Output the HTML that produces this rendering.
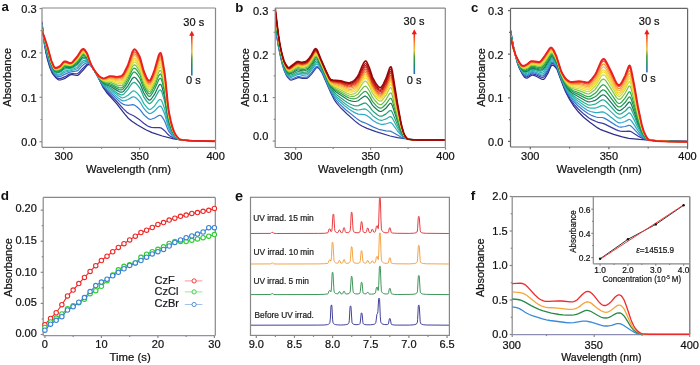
<!DOCTYPE html>
<html><head><meta charset="utf-8"><style>
html,body{margin:0;padding:0;background:#fff;width:700px;height:365px;overflow:hidden}
svg{display:block;will-change:transform}
text{font-family:"Liberation Sans", sans-serif;stroke:#111;stroke-width:0.22px}
</style></head><body>
<svg width="700" height="365" viewBox="0 0 700 365">
<rect width="700" height="365" fill="#fff"/>
<g clip-path="url(#clip42)">
<clipPath id="clip42"><rect x="42.00" y="5.00" width="173.50" height="142.30"/></clipPath>
<path d="M42.0 21.8L43.5 36.2L44.6 45.4L46.1 53.4L47.5 59.6L49.8 67.2L51.9 72.4L52.7 73.9L54.5 76.2L55.9 77.8L57.4 79.1L58.5 79.8L59.4 80.0L60.6 79.9L62.0 79.5L65.2 78.3L69.3 75.4L71.0 74.7L72.4 74.7L76.5 75.5L77.9 75.3L79.4 74.2L83.2 70.1L86.9 65.5L88.4 64.6L89.5 64.6L91.0 65.8L94.5 70.7L98.8 78.7L102.9 87.1L106.6 92.5L116.8 103.9L124.6 113.9L127.8 117.7L129.8 119.6L131.9 121.3L137.1 124.8L145.8 129.8L152.1 132.6L162.3 136.0L173.6 138.8L179.1 139.7L189.5 140.7L202.8 141.1L215.6 141.3" fill="none" stroke="#2d2d8a" stroke-width="1.25" stroke-linejoin="round"/>
<path d="M42.0 22.7L43.5 36.1L44.6 44.7L46.1 52.4L47.5 58.4L50.1 67.0L51.9 71.4L52.7 73.0L54.5 75.3L55.6 76.6L57.1 77.9L58.8 78.6L60.3 78.6L65.2 76.7L69.0 74.4L70.4 73.8L72.2 73.5L76.5 73.8L77.7 73.6L79.1 72.5L82.0 69.2L86.6 64.6L88.1 63.9L89.3 64.0L91.0 65.7L94.2 70.2L98.8 78.4L102.9 86.2L104.9 89.1L107.5 92.0L115.9 100.5L123.2 108.6L126.6 111.9L129.2 113.8L133.6 115.8L135.9 117.2L140.0 120.1L143.7 123.3L147.2 125.7L149.2 126.7L151.3 127.3L154.7 127.6L159.1 127.6L160.8 127.9L162.3 128.8L164.6 130.7L168.1 134.6L169.5 135.7L173.6 138.0L177.9 139.4L183.1 140.1L190.7 140.7L215.6 141.3" fill="none" stroke="#3b3ba6" stroke-width="1.25" stroke-linejoin="round"/>
<path d="M42.0 24.1L43.5 35.9L44.6 43.5L46.1 50.7L47.5 56.4L50.1 65.2L51.6 69.2L52.7 71.5L53.9 73.2L55.1 74.7L56.2 75.6L58.2 76.6L60.0 76.6L61.1 76.2L64.0 74.6L69.8 72.2L77.1 70.9L78.5 69.9L82.0 65.9L84.0 64.3L85.5 63.4L86.9 62.7L87.5 62.7L88.4 62.9L89.3 63.5L90.4 64.8L94.2 70.2L102.0 84.0L103.7 86.6L106.6 89.6L113.3 95.5L120.5 102.4L122.9 104.1L125.2 104.9L128.1 105.3L132.7 104.7L133.9 104.9L134.7 105.3L136.8 106.7L140.0 109.6L143.4 114.2L145.8 116.6L147.8 118.3L149.2 119.1L150.4 119.3L151.8 119.0L154.7 118.0L158.8 115.5L160.0 115.3L160.8 115.5L162.3 117.1L164.6 121.0L167.8 129.2L168.9 131.5L171.8 135.2L173.3 136.6L174.7 137.6L177.1 138.8L179.1 139.5L185.8 140.4L197.3 141.0L215.6 141.3" fill="none" stroke="#3a7bd2" stroke-width="1.25" stroke-linejoin="round"/>
<path d="M42.0 25.1L44.6 42.7L46.1 49.4L47.5 55.0L50.1 64.0L51.3 67.3L53.3 71.4L54.5 73.0L55.6 74.1L57.7 75.1L59.7 75.1L60.9 74.7L64.3 72.5L69.3 71.0L73.6 70.0L76.8 69.0L78.2 67.9L81.4 64.1L82.9 62.8L85.2 61.7L86.6 61.5L87.5 61.6L88.4 62.1L89.3 63.0L91.3 65.8L94.8 71.1L101.7 82.9L103.5 85.4L106.3 88.2L111.9 92.4L119.1 98.6L121.1 100.1L122.9 100.8L124.9 100.7L128.1 99.5L132.1 97.1L133.3 96.8L134.5 97.0L136.5 98.3L139.7 101.6L140.8 103.2L143.7 108.2L146.3 111.3L148.1 112.9L149.5 113.6L150.4 113.5L151.3 113.2L154.5 111.1L157.9 107.4L159.1 106.5L160.0 106.1L160.8 106.3L161.4 107.0L162.3 108.5L164.6 113.9L167.8 125.4L168.9 128.6L171.0 132.3L172.7 134.9L174.4 136.7L176.5 138.1L178.2 139.1L180.0 139.7L187.2 140.5L200.0 141.0L215.6 141.3" fill="none" stroke="#32a8c8" stroke-width="1.25" stroke-linejoin="round"/>
<path d="M42.0 25.9L44.6 42.1L47.5 54.0L50.1 63.0L51.3 66.5L53.3 70.6L54.5 72.3L55.3 73.2L57.4 74.1L58.5 74.2L59.7 74.0L60.9 73.5L63.2 71.8L64.3 71.1L71.6 69.5L73.9 68.7L76.8 67.5L77.7 66.9L81.4 62.3L82.9 61.1L83.7 60.6L84.9 60.4L87.2 60.6L88.4 61.5L89.5 63.0L94.8 71.1L101.4 81.9L103.2 84.4L105.8 86.6L111.0 90.0L118.5 95.8L120.5 97.1L121.7 97.6L122.6 97.8L123.4 97.7L124.6 97.3L128.1 95.2L132.1 91.5L133.3 90.9L134.5 91.0L136.5 92.4L139.7 96.0L140.8 97.8L144.0 103.9L147.5 108.2L148.7 109.1L149.5 109.5L150.4 109.3L151.3 108.9L154.5 106.0L157.9 101.2L159.1 99.9L160.0 99.5L160.8 99.7L161.4 100.4L162.3 102.2L164.6 108.7L167.8 122.6L169.2 127.2L171.3 131.5L173.3 134.8L174.7 136.5L177.3 138.5L178.8 139.2L180.2 139.7L188.1 140.6L201.1 141.1L215.6 141.3" fill="none" stroke="#2eb5b0" stroke-width="1.25" stroke-linejoin="round"/>
<path d="M42.0 27.0L43.8 37.0L44.9 42.5L50.1 61.7L51.3 65.2L52.7 68.4L54.2 70.9L55.3 72.1L57.1 72.7L59.1 72.6L60.6 72.0L63.2 69.8L64.3 69.1L70.7 68.3L72.7 67.6L77.4 64.9L78.5 63.6L81.1 60.1L82.3 59.0L83.5 58.4L84.6 58.4L86.9 59.3L88.1 60.4L98.2 76.6L101.7 81.9L103.2 83.7L105.2 85.3L110.7 88.3L117.9 93.4L119.7 94.4L121.1 94.8L122.0 94.9L122.9 94.7L124.0 93.9L127.8 89.7L130.4 85.7L132.1 83.5L133.3 82.6L134.5 82.4L135.3 82.9L136.5 83.8L139.7 87.9L140.8 90.0L143.7 96.8L146.6 101.2L148.4 103.1L149.2 103.5L149.8 103.5L150.4 103.3L151.3 102.6L154.5 98.7L158.8 90.9L159.7 90.1L160.5 89.9L161.1 90.5L162.0 92.3L164.6 101.3L167.8 118.7L168.9 123.5L170.7 128.3L172.4 132.2L174.2 135.1L175.9 137.0L177.6 138.4L179.4 139.4L184.9 140.3L195.3 140.9L215.6 141.3" fill="none" stroke="#26ad8e" stroke-width="1.25" stroke-linejoin="round"/>
<path d="M42.0 27.6L44.9 41.9L50.4 61.9L51.3 64.5L53.0 68.3L54.2 70.3L55.3 71.5L57.1 71.9L58.8 71.8L60.6 71.0L63.2 68.7L64.3 68.0L65.8 67.7L70.4 67.6L72.4 66.9L77.4 63.6L82.0 57.7L83.2 57.0L84.0 57.0L84.9 57.2L86.1 57.8L87.2 58.6L87.8 59.3L93.0 68.4L98.5 76.9L101.4 81.0L102.9 82.7L105.2 84.3L111.0 86.8L116.8 90.4L119.4 91.8L120.8 92.2L122.0 92.2L122.9 91.8L124.0 90.9L127.8 86.1L132.1 78.8L133.3 77.6L133.9 77.4L134.5 77.4L135.3 77.8L136.5 78.8L139.7 83.1L140.8 85.5L143.7 92.8L146.6 97.6L148.4 99.6L149.2 100.1L149.8 100.1L150.4 99.8L151.3 99.0L154.5 94.4L158.8 85.5L159.7 84.5L160.5 84.3L161.1 84.9L162.0 87.0L164.6 96.9L167.8 116.4L168.9 121.8L170.7 127.1L172.4 131.5L173.9 134.2L175.6 136.4L177.6 138.3L179.4 139.3L184.0 140.2L193.0 140.8L215.6 141.3" fill="none" stroke="#1a7860" stroke-width="1.25" stroke-linejoin="round"/>
<path d="M42.0 28.3L44.9 41.3L50.7 62.1L51.6 64.5L53.3 68.2L54.5 70.0L55.3 70.8L56.2 71.1L57.4 71.1L60.0 70.4L60.9 69.7L63.2 67.4L64.3 66.7L65.8 66.5L70.1 66.7L72.2 66.2L73.9 65.0L77.4 62.2L80.8 57.4L82.0 56.1L83.2 55.5L84.0 55.5L85.8 56.5L87.5 58.2L90.4 63.9L93.0 68.4L98.2 76.3L102.6 81.8L103.7 82.7L105.2 83.5L111.0 85.3L116.5 88.4L119.1 89.6L120.5 89.8L121.7 89.8L122.6 89.4L123.4 88.7L124.9 86.9L127.8 82.3L131.0 75.8L132.4 73.4L133.3 72.4L133.9 72.0L134.5 72.0L135.3 72.4L137.4 74.5L140.0 78.5L143.4 87.9L146.1 92.9L148.1 95.7L148.9 96.3L149.5 96.4L150.1 96.2L150.7 95.7L152.1 93.7L154.7 89.3L158.5 80.2L159.7 78.5L160.5 78.3L161.1 78.9L162.0 81.2L164.6 92.2L167.8 113.9L168.9 119.9L170.7 125.8L172.4 130.6L173.9 133.7L175.6 136.1L177.3 137.9L179.1 139.1L180.2 139.6L183.7 140.1L192.7 140.8L215.6 141.3" fill="none" stroke="#1f9a50" stroke-width="1.25" stroke-linejoin="round"/>
<path d="M42.0 28.8L44.6 39.8L50.7 61.5L53.0 67.1L54.2 69.2L55.1 70.1L55.9 70.5L57.1 70.5L59.7 69.8L60.9 69.0L63.2 66.5L64.3 65.8L65.8 65.7L70.1 66.1L71.0 66.0L72.2 65.5L73.9 64.2L77.4 61.2L81.7 55.3L82.6 54.6L83.7 54.4L85.2 55.1L87.2 57.1L88.1 58.6L90.4 63.8L93.0 68.3L98.2 76.1L102.3 81.1L103.5 82.0L104.9 82.6L109.5 83.5L111.0 84.0L116.2 86.6L118.8 87.7L120.3 87.9L121.7 87.8L122.6 87.3L123.4 86.5L124.9 84.5L127.8 79.5L131.0 72.4L132.4 69.7L133.3 68.6L133.9 68.2L134.5 68.2L135.3 68.6L136.2 69.3L137.4 70.8L140.0 74.9L143.4 84.9L146.1 90.1L148.1 93.1L148.9 93.7L149.5 93.8L150.1 93.5L150.7 93.0L152.1 90.8L154.7 85.9L158.5 76.1L159.7 74.3L160.5 74.0L161.1 74.7L162.0 77.1L164.6 88.9L165.5 94.3L167.8 112.1L168.9 118.6L170.7 124.9L172.4 130.0L173.9 133.3L175.6 135.8L177.3 137.7L179.1 139.1L180.2 139.6L183.4 140.1L192.4 140.8L215.6 141.3" fill="none" stroke="#2aaa48" stroke-width="1.25" stroke-linejoin="round"/>
<path d="M42.0 29.2L44.6 39.5L51.0 61.9L53.6 67.8L54.5 69.2L55.3 69.9L56.2 70.1L57.4 70.0L60.0 69.0L60.9 68.3L63.2 65.8L64.3 65.0L65.8 65.0L70.1 65.6L71.0 65.5L72.2 65.0L73.6 63.9L77.1 60.6L81.7 54.3L82.9 53.5L83.7 53.4L85.2 54.3L87.2 56.5L88.1 58.1L90.4 63.6L93.3 68.8L98.2 76.0L100.0 78.1L102.3 80.5L103.5 81.3L104.9 81.8L109.2 82.1L110.7 82.4L117.1 85.1L118.8 85.6L120.5 85.7L121.4 85.6L122.3 85.3L123.2 84.5L124.3 83.0L128.1 76.4L132.1 67.1L133.3 65.4L133.9 64.9L134.5 64.9L135.3 65.2L136.5 66.3L139.7 71.3L140.8 74.1L142.9 80.6L144.0 83.7L146.3 88.2L147.5 90.1L148.7 91.3L149.5 91.5L150.1 91.2L150.7 90.7L152.1 88.3L154.7 83.1L158.5 72.5L159.7 70.6L160.3 70.3L160.5 70.3L161.1 71.0L162.0 73.5L164.6 86.0L165.5 91.8L167.8 110.6L168.9 117.4L170.7 124.1L172.4 129.5L173.9 132.9L175.6 135.6L177.3 137.6L179.1 139.1L180.2 139.5L183.4 140.1L192.4 140.8L215.6 141.3" fill="none" stroke="#80c44a" stroke-width="1.25" stroke-linejoin="round"/>
<path d="M42.0 29.5L51.0 61.5L53.6 67.5L54.5 68.8L55.3 69.5L56.2 69.7L57.4 69.5L60.0 68.5L60.9 67.8L63.2 65.1L64.3 64.3L65.8 64.3L69.8 65.1L71.0 65.0L71.9 64.7L73.3 63.6L77.1 59.9L81.7 53.4L82.9 52.6L83.7 52.6L85.2 53.6L87.2 55.9L90.7 64.1L92.7 67.8L94.8 71.0L98.5 76.2L102.0 79.8L103.2 80.6L104.3 81.0L110.4 81.0L117.1 83.5L118.8 83.8L120.5 83.8L121.7 83.6L122.3 83.3L123.2 82.5L124.3 80.9L128.1 74.3L131.3 66.3L132.4 63.9L133.6 62.3L134.5 62.0L135.3 62.3L136.5 63.4L139.7 68.5L140.8 71.5L142.9 78.2L144.0 81.4L146.3 86.1L147.5 88.1L148.7 89.3L149.5 89.5L150.1 89.2L150.7 88.6L152.1 86.1L154.7 80.6L158.5 69.5L159.7 67.4L160.3 67.0L160.5 67.0L161.1 67.8L162.0 70.4L164.6 83.5L165.5 89.5L167.8 109.2L168.9 116.4L170.7 123.4L172.4 129.1L173.9 132.6L175.6 135.4L177.3 137.5L179.1 139.0L180.2 139.5L183.1 140.0L187.5 140.5L192.4 140.8L215.6 141.3" fill="none" stroke="#c8dc40" stroke-width="1.25" stroke-linejoin="round"/>
<path d="M42.0 29.8L48.1 50.4L51.0 61.2L53.6 67.2L54.5 68.6L55.3 69.3L56.2 69.4L57.4 69.2L60.0 68.1L60.9 67.4L63.2 64.7L64.3 63.9L65.8 63.9L69.8 64.8L71.0 64.7L71.9 64.3L73.3 63.2L77.1 59.4L81.7 52.8L82.9 52.1L83.7 52.0L85.2 53.0L87.2 55.5L90.4 63.4L92.4 67.3L94.5 70.5L98.2 75.7L100.0 77.6L101.7 79.2L102.9 80.0L104.0 80.4L105.5 80.4L109.0 80.0L110.4 80.0L112.1 80.4L116.8 82.0L118.8 82.3L120.5 82.3L121.7 82.1L122.6 81.5L124.6 78.9L128.1 72.7L132.4 62.0L133.6 60.3L134.5 60.0L135.3 60.3L136.5 61.5L139.7 66.7L140.8 69.6L142.9 76.6L144.0 79.9L146.3 84.7L147.5 86.7L148.7 87.9L149.5 88.1L150.1 87.8L150.7 87.2L152.1 84.6L154.7 78.8L158.5 67.3L159.7 65.2L160.3 64.8L160.5 64.8L161.1 65.6L162.0 68.3L164.6 81.8L165.5 88.0L167.8 108.3L168.9 115.7L170.7 122.9L172.4 128.8L173.9 132.4L175.6 135.3L177.3 137.5L179.1 139.0L180.2 139.5L183.1 140.0L187.5 140.5L192.4 140.8L215.6 141.3" fill="none" stroke="#f0e22e" stroke-width="1.25" stroke-linejoin="round"/>
<path d="M42.0 30.0L48.1 50.1L51.0 61.0L53.6 67.0L54.5 68.3L55.3 69.1L56.2 69.1L57.4 68.9L60.0 67.8L60.9 67.0L63.2 64.3L64.3 63.4L65.8 63.5L69.8 64.5L71.0 64.4L71.9 64.0L73.3 62.9L77.1 58.9L81.4 52.6L82.6 51.6L83.5 51.4L84.0 51.6L84.9 52.3L87.2 55.1L90.4 63.3L92.4 67.2L94.5 70.5L98.2 75.6L99.7 77.2L101.4 78.7L102.9 79.7L104.0 80.0L105.5 79.9L109.0 79.2L110.4 79.1L112.1 79.5L116.8 80.9L118.8 81.1L120.5 81.0L121.7 80.8L122.6 80.2L124.6 77.5L128.1 71.3L132.4 60.2L133.6 58.5L134.5 58.1L135.3 58.5L136.5 59.6L139.7 64.9L140.8 68.0L142.9 75.1L144.0 78.5L146.3 83.4L147.5 85.4L148.7 86.7L149.5 86.9L150.1 86.6L150.7 85.9L152.1 83.1L154.7 77.2L158.5 65.4L159.7 63.2L160.3 62.7L160.5 62.8L161.1 63.5L162.0 66.3L164.6 80.2L165.5 86.6L167.8 107.5L168.9 115.1L170.7 122.5L172.4 128.5L173.9 132.2L175.6 135.2L177.3 137.4L179.1 139.0L180.2 139.5L183.1 140.0L187.5 140.5L192.4 140.8L215.6 141.3" fill="none" stroke="#f8d23a" stroke-width="1.25" stroke-linejoin="round"/>
<path d="M42.0 30.4L48.1 49.6L51.0 60.6L53.6 66.7L54.5 68.0L55.3 68.7L56.2 68.8L57.4 68.5L60.0 67.3L60.9 66.5L63.2 63.7L64.3 62.8L65.8 62.9L69.8 64.1L71.0 64.0L71.9 63.6L73.3 62.4L77.1 58.2L81.4 51.8L82.6 50.9L83.5 50.7L84.0 50.9L84.9 51.6L87.2 54.7L90.4 63.2L93.9 69.6L97.7 74.8L100.3 77.5L102.3 79.0L103.7 79.5L105.2 79.5L109.0 78.5L110.4 78.3L112.1 78.6L116.8 79.9L118.5 80.0L120.3 79.8L121.4 79.6L122.3 79.1L123.4 77.8L124.6 76.0L128.1 69.4L132.4 57.8L133.6 56.0L134.5 55.5L135.3 55.9L136.5 57.0L137.6 58.8L139.7 62.5L140.8 65.6L142.9 73.0L144.0 76.5L146.3 81.5L147.5 83.6L148.7 84.9L149.5 85.1L150.1 84.8L150.7 84.0L152.1 81.2L154.7 75.0L158.5 62.6L159.7 60.3L160.3 59.9L160.5 59.9L161.1 60.7L162.0 63.6L164.6 77.9L165.5 84.6L167.8 106.3L168.9 114.2L170.7 121.8L172.1 127.1L173.9 132.0L175.3 134.6L177.1 137.0L178.8 138.7L180.0 139.4L182.6 139.9L186.9 140.5L191.8 140.8L215.6 141.3" fill="none" stroke="#f8b444" stroke-width="1.25" stroke-linejoin="round"/>
<path d="M42.0 30.6L48.1 49.3L51.0 60.3L53.6 66.4L54.5 67.8L55.3 68.5L56.2 68.5L57.4 68.2L60.0 66.9L60.9 66.1L63.2 63.3L64.3 62.4L65.8 62.5L69.8 63.8L71.0 63.7L71.9 63.3L73.3 62.1L77.1 57.8L81.4 51.3L82.6 50.4L83.5 50.2L84.0 50.4L84.9 51.1L87.2 54.3L90.4 63.1L93.6 69.2L97.4 74.4L98.8 76.1L100.3 77.4L102.3 78.7L103.7 79.1L105.2 79.0L109.0 77.7L110.4 77.5L112.1 77.7L116.5 78.7L118.2 78.8L120.3 78.5L121.4 78.3L122.3 77.8L123.4 76.5L124.6 74.6L128.1 68.0L132.4 56.1L133.6 54.2L134.5 53.8L135.3 54.1L136.5 55.3L137.6 57.0L139.7 60.8L140.8 64.0L142.9 71.5L144.0 75.1L146.3 80.3L147.5 82.4L148.7 83.7L149.5 83.9L150.1 83.5L150.7 82.8L152.1 79.8L154.7 73.5L158.5 60.7L159.7 58.3L160.3 57.9L160.5 57.9L161.1 58.7L162.0 61.7L164.6 76.4L165.5 83.2L167.8 105.5L168.9 113.5L170.7 121.4L172.1 126.8L173.9 131.8L175.3 134.5L177.1 136.9L178.8 138.7L180.0 139.4L182.3 139.9L186.6 140.4L191.8 140.8L215.6 141.3" fill="none" stroke="#f59234" stroke-width="1.25" stroke-linejoin="round"/>
<path d="M42.0 30.8L44.9 39.0L47.8 48.0L51.0 60.0L53.3 65.6L54.2 67.2L55.1 68.1L55.9 68.3L57.1 68.0L60.0 66.6L60.9 65.7L63.2 62.8L64.3 62.0L65.8 62.1L69.8 63.5L71.0 63.4L71.9 63.0L73.3 61.7L77.1 57.3L81.4 50.7L82.6 49.8L83.5 49.6L84.0 49.9L84.9 50.6L87.2 54.0L90.4 63.1L92.4 67.2L94.5 70.5L97.1 74.0L99.1 76.2L101.7 78.1L103.2 78.7L105.2 78.5L108.7 77.1L110.1 76.8L111.9 76.8L115.6 77.7L117.4 77.8L120.5 77.4L121.7 77.0L122.3 76.6L123.2 75.6L124.3 73.9L127.8 67.2L132.4 54.2L133.6 52.3L134.5 51.8L135.3 52.1L136.5 53.3L137.6 55.1L139.7 58.9L140.8 62.2L142.9 69.9L144.0 73.5L146.3 78.8L147.5 81.0L148.7 82.3L149.5 82.5L150.1 82.1L150.7 81.4L152.1 78.3L154.7 71.7L158.5 58.6L159.7 56.1L160.3 55.7L160.5 55.7L161.1 56.5L162.0 59.5L164.6 74.7L165.5 81.7L167.8 104.5L168.9 112.8L170.7 120.9L172.1 126.5L173.9 131.6L175.3 134.4L177.1 136.9L178.8 138.7L180.0 139.4L182.3 139.9L186.6 140.4L191.8 140.8L215.6 141.3" fill="none" stroke="#f05a28" stroke-width="1.25" stroke-linejoin="round"/>
<path d="M42.0 31.1L44.3 37.1L47.2 45.7L51.3 60.5L53.6 65.9L54.5 67.3L55.1 67.8L55.6 68.0L56.8 67.8L60.0 66.1L60.9 65.3L63.2 62.2L64.3 61.4L65.8 61.5L69.8 63.1L71.0 63.0L71.9 62.6L73.3 61.2L77.1 56.7L81.4 50.0L82.6 49.1L83.5 48.9L84.0 49.2L84.9 50.0L87.2 53.6L90.4 63.0L92.4 67.1L94.5 70.5L96.8 73.6L98.8 75.9L100.3 77.0L102.9 78.4L103.7 78.4L104.9 78.2L108.7 76.5L110.1 76.1L111.9 76.1L115.6 76.8L117.4 76.9L120.5 76.2L121.7 75.8L122.3 75.4L123.2 74.4L124.3 72.5L127.8 65.5L132.4 51.9L133.6 49.9L134.5 49.3L135.3 49.7L136.5 50.9L137.6 52.7L139.7 56.6L140.8 60.0L142.9 67.9L144.0 71.7L146.3 77.1L147.5 79.3L148.7 80.6L149.5 80.8L150.1 80.4L150.7 79.6L152.1 76.5L154.7 69.6L158.5 56.0L159.7 53.4L160.3 52.9L160.5 52.9L161.1 53.8L162.0 56.9L164.6 72.5L165.5 79.8L167.8 103.4L168.9 112.0L170.7 120.4L172.1 126.1L173.9 131.4L175.3 134.2L177.1 136.8L178.8 138.7L180.0 139.4L182.3 139.9L186.6 140.4L191.5 140.8L215.6 141.3" fill="none" stroke="#e82020" stroke-width="1.9" stroke-linejoin="round"/>
</g>
<line x1="42.00" y1="8.00" x2="215.50" y2="8.00" stroke="#888" stroke-width="1.2" />
<line x1="42.00" y1="8.00" x2="42.00" y2="147.30" stroke="#888" stroke-width="1.2" />
<line x1="42.00" y1="147.30" x2="215.50" y2="147.30" stroke="#888" stroke-width="1.2" />
<line x1="215.50" y1="8.00" x2="215.50" y2="147.30" stroke="#888" stroke-width="1.2" />
<line x1="39.50" y1="141.70" x2="42.00" y2="141.70" stroke="#888" stroke-width="1.2" />
<text x="36.60" y="145.70" font-size="11" text-anchor="end" font-weight="normal" fill="#111" >0.0</text>
<line x1="39.50" y1="97.30" x2="42.00" y2="97.30" stroke="#888" stroke-width="1.2" />
<text x="36.60" y="101.50" font-size="11" text-anchor="end" font-weight="normal" fill="#111" >0.1</text>
<line x1="39.50" y1="52.90" x2="42.00" y2="52.90" stroke="#888" stroke-width="1.2" />
<text x="36.60" y="57.50" font-size="11" text-anchor="end" font-weight="normal" fill="#111" >0.2</text>
<line x1="39.50" y1="8.50" x2="42.00" y2="8.50" stroke="#888" stroke-width="1.2" />
<text x="36.60" y="13.20" font-size="11" text-anchor="end" font-weight="normal" fill="#111" >0.3</text>
<line x1="63.60" y1="147.30" x2="63.60" y2="149.50" stroke="#888" stroke-width="1.2" />
<text x="63.60" y="159.70" font-size="11" text-anchor="middle" font-weight="normal" fill="#111" >300</text>
<line x1="139.60" y1="147.30" x2="139.60" y2="149.50" stroke="#888" stroke-width="1.2" />
<text x="139.60" y="159.70" font-size="11" text-anchor="middle" font-weight="normal" fill="#111" >350</text>
<line x1="215.60" y1="147.30" x2="215.60" y2="149.50" stroke="#888" stroke-width="1.2" />
<text x="215.60" y="159.70" font-size="11" text-anchor="middle" font-weight="normal" fill="#111" >400</text>
<line x1="101.60" y1="147.30" x2="101.60" y2="148.80" stroke="#888" stroke-width="1.2" />
<line x1="177.60" y1="147.30" x2="177.60" y2="148.80" stroke="#888" stroke-width="1.2" />
<line x1="40.50" y1="119.50" x2="42.00" y2="119.50" stroke="#888" stroke-width="1.2" />
<line x1="40.50" y1="75.10" x2="42.00" y2="75.10" stroke="#888" stroke-width="1.2" />
<line x1="40.50" y1="30.70" x2="42.00" y2="30.70" stroke="#888" stroke-width="1.2" />
<text x="128.60" y="172.80" font-size="11" text-anchor="middle" font-weight="normal" fill="#111"  textLength="85.00" lengthAdjust="spacingAndGlyphs">Wavelength (nm)</text>
<text x="11.50" y="77.30" font-size="11" text-anchor="middle" font-weight="normal" fill="#111" transform="rotate(-90 11.5 77.3)">Absorbance</text>
<text x="1.60" y="10.80" font-size="13.2" text-anchor="start" font-weight="bold" fill="#111" style="stroke-width:0">a</text>
<defs><linearGradient id="g191" x1="0" y1="1" x2="0" y2="0"><stop offset="0" stop-color="#1f6fd0"/><stop offset="0.22" stop-color="#1a8a6a"/><stop offset="0.42" stop-color="#4a9a30"/><stop offset="0.58" stop-color="#e8c040"/><stop offset="0.75" stop-color="#f89030"/><stop offset="1" stop-color="#ee1c10"/></linearGradient></defs>
<rect x="191.00" y="34.80" width="1.6" height="40.70" fill="url(#g191)"/>
<polygon points="191.80,30.80 189.20,35.80 194.40,35.80" fill="#ee1c10"/>
<text x="193.75" y="26.20" font-size="11" text-anchor="middle" font-weight="normal" fill="#111" >30 s</text>
<text x="193.30" y="84.40" font-size="11" text-anchor="middle" font-weight="normal" fill="#111" >0 s</text>
<g clip-path="url(#clip275)">
<clipPath id="clip275"><rect x="275.20" y="5.10" width="170.10" height="142.40"/></clipPath>
<path d="M275.2 27.1L278.3 46.2L280.9 58.7L282.6 65.6L284.3 70.8L286.3 75.3L287.4 77.0L290.0 79.8L290.8 80.1L292.0 80.0L298.2 77.6L299.3 77.6L302.2 78.4L306.5 78.4L307.3 78.2L308.7 77.1L311.9 73.6L315.8 68.3L317.0 67.6L317.8 67.7L318.7 68.3L319.5 69.2L322.1 73.0L330.6 92.6L334.0 99.3L336.6 103.2L341.2 108.3L346.8 113.8L356.2 122.1L359.4 124.4L361.9 126.0L367.0 128.4L375.9 131.6L390.1 136.0L397.5 137.6L408.9 139.2L414.3 139.7L429.3 140.1L445.5 140.2" fill="none" stroke="#35359a" stroke-width="1.2" stroke-linejoin="round"/>
<path d="M275.2 25.7L278.3 45.3L280.6 56.6L282.6 64.9L284.0 69.4L286.0 74.0L287.4 76.3L289.7 78.7L290.8 79.2L292.0 79.0L297.1 76.7L298.2 76.4L299.3 76.5L302.2 77.3L306.5 77.2L307.3 76.9L308.7 75.8L311.9 72.2L315.6 67.1L316.7 66.4L317.6 66.4L318.4 66.9L319.3 67.8L322.1 72.0L330.4 90.8L333.5 96.4L335.8 99.8L339.2 103.6L345.7 109.7L356.5 118.4L359.9 120.7L362.2 121.9L366.5 123.5L373.0 126.9L378.7 129.3L382.4 130.2L386.1 130.8L389.8 131.1L391.2 131.4L400.6 136.8L403.5 138.0L406.0 138.7L410.0 139.4L415.1 139.8L445.5 140.2" fill="none" stroke="#3878c8" stroke-width="1.2" stroke-linejoin="round"/>
<path d="M275.2 23.3L278.3 43.8L280.3 54.0L282.3 62.7L283.7 67.5L285.7 72.2L287.1 74.7L289.4 77.0L290.5 77.5L291.7 77.3L296.8 74.9L298.2 74.4L299.3 74.5L302.2 75.3L307.0 74.9L308.5 73.8L311.6 70.2L315.3 64.9L316.4 64.2L317.3 64.2L318.1 64.7L319.0 65.7L321.8 70.2L330.1 88.9L332.1 92.4L334.6 96.2L337.7 99.7L344.3 105.5L348.8 109.0L353.4 111.9L355.7 113.1L358.2 114.1L364.5 114.6L365.9 115.0L369.3 117.3L373.0 120.5L377.0 122.9L379.8 124.0L381.3 124.3L382.7 124.3L386.1 123.8L389.5 122.7L390.4 122.7L391.2 122.9L392.4 123.9L397.5 131.0L401.2 135.3L404.3 137.8L407.2 138.9L410.6 139.4L415.4 139.8L445.5 140.2" fill="none" stroke="#30a8c8" stroke-width="1.2" stroke-linejoin="round"/>
<path d="M275.2 21.7L278.3 42.6L280.3 53.1L282.3 61.9L283.7 66.7L285.7 71.4L287.1 73.8L289.1 75.8L290.2 76.3L291.4 76.2L296.8 73.5L297.9 73.1L299.1 73.1L302.2 73.9L307.0 73.4L308.5 72.3L311.6 68.5L315.3 63.2L316.4 62.5L317.3 62.7L318.7 64.1L321.8 69.3L329.8 87.3L330.9 89.4L333.2 92.8L335.5 95.6L337.7 97.8L345.1 103.8L349.4 106.8L354.0 109.1L357.1 109.9L358.8 110.0L364.2 108.9L365.9 109.2L367.0 109.9L369.3 111.9L373.0 115.9L377.0 118.8L378.7 119.7L380.1 120.2L381.6 120.3L383.0 120.0L386.1 118.9L389.5 116.8L390.4 116.6L391.2 116.8L392.4 118.3L397.5 128.0L401.2 134.0L402.9 136.0L404.3 137.4L407.4 139.0L410.8 139.5L416.0 139.8L445.5 140.2" fill="none" stroke="#30b0a0" stroke-width="1.2" stroke-linejoin="round"/>
<path d="M275.2 20.0L278.3 41.5L280.0 50.8L282.0 59.9L283.4 65.0L285.1 69.3L286.8 72.5L287.7 73.6L288.8 74.6L290.0 75.1L291.1 75.0L293.1 74.1L296.8 72.0L297.9 71.6L299.1 71.7L302.2 72.4L304.8 72.2L307.0 71.8L308.5 70.6L311.6 66.8L315.0 61.7L316.1 60.9L317.0 61.0L317.8 61.6L318.7 62.8L321.8 68.3L329.2 85.0L331.2 88.6L334.0 92.2L336.3 94.4L344.3 100.4L347.7 102.8L350.0 104.0L352.3 105.0L354.2 105.6L356.2 105.8L358.5 105.6L361.1 104.4L364.2 103.1L365.1 103.0L365.9 103.2L367.0 104.1L369.3 106.4L372.2 110.4L374.2 112.3L377.6 115.0L379.0 115.8L380.4 116.2L381.6 116.2L383.0 115.6L386.1 113.9L389.5 110.8L390.4 110.5L391.2 110.7L392.4 112.5L397.5 124.9L401.2 132.7L402.9 135.3L404.3 137.0L405.7 138.1L407.4 138.9L410.6 139.5L416.3 139.8L445.5 140.1" fill="none" stroke="#22a078" stroke-width="1.2" stroke-linejoin="round"/>
<path d="M275.2 18.0L278.3 40.2L280.0 49.7L282.0 58.9L283.4 64.0L284.8 67.7L286.8 71.5L288.5 73.3L289.7 73.7L290.8 73.6L293.1 72.5L296.5 70.5L297.6 70.0L298.8 70.0L302.2 70.8L304.8 70.5L307.0 70.0L308.5 68.7L311.6 64.8L315.0 59.6L315.8 59.0L316.7 59.0L317.6 59.6L318.4 60.7L321.8 67.1L329.2 83.8L330.9 86.9L333.8 90.0L336.0 92.0L346.6 98.9L348.8 100.2L350.8 100.9L353.7 101.5L355.7 101.5L358.2 100.7L361.1 98.4L363.6 96.7L364.8 96.1L365.6 96.2L366.8 96.9L367.9 98.2L369.6 100.4L372.4 105.1L374.4 107.3L377.9 110.4L379.3 111.1L380.4 111.5L381.6 111.3L383.0 110.5L386.1 108.0L389.5 103.8L390.4 103.3L390.9 103.3L391.2 103.5L392.4 105.7L397.5 121.4L400.9 130.5L402.0 132.9L404.0 136.2L404.9 137.2L406.6 138.5L408.3 139.2L415.1 139.8L445.5 140.1" fill="none" stroke="#1a7a50" stroke-width="1.2" stroke-linejoin="round"/>
<path d="M275.2 16.6L278.3 39.3L280.0 49.0L281.7 57.0L283.1 62.5L284.3 65.7L286.5 70.3L287.4 71.5L288.3 72.3L289.4 72.8L290.8 72.7L293.1 71.5L296.2 69.5L297.6 68.8L298.8 68.8L302.2 69.6L304.8 69.3L307.0 68.7L308.5 67.5L311.6 63.4L314.7 58.4L315.8 57.6L316.7 57.7L317.6 58.4L318.4 59.7L321.8 66.3L328.9 82.4L330.6 85.6L333.2 88.2L335.8 90.2L346.8 96.9L349.1 98.0L351.1 98.5L353.7 98.8L355.7 98.5L357.4 97.8L358.5 97.1L361.1 94.4L363.9 91.9L364.8 91.5L365.6 91.4L366.8 92.2L367.9 93.6L369.6 96.1L372.4 101.4L374.4 103.7L376.4 105.9L377.9 107.1L379.3 107.9L380.4 108.2L381.6 108.0L383.0 107.0L386.1 104.0L389.5 99.0L390.4 98.4L390.9 98.3L391.2 98.5L392.4 101.1L397.5 119.0L401.2 130.1L402.6 133.3L404.0 135.8L404.9 136.9L406.9 138.6L408.6 139.3L415.4 139.8L445.5 140.1" fill="none" stroke="#30a048" stroke-width="1.2" stroke-linejoin="round"/>
<path d="M275.2 15.1L278.3 38.3L280.0 48.1L281.7 56.2L283.1 61.7L284.3 65.0L286.5 69.5L287.4 70.7L288.3 71.5L289.4 71.9L290.8 71.6L296.2 68.2L297.6 67.6L298.8 67.6L302.2 68.4L304.5 68.1L307.0 67.3L308.5 66.0L311.6 61.9L314.7 56.8L315.6 56.1L316.4 56.1L317.6 57.1L318.7 59.0L322.4 66.8L328.9 81.7L330.6 84.8L332.9 86.9L335.5 88.8L346.8 95.0L349.1 96.0L351.1 96.4L353.7 96.4L355.4 95.8L358.2 93.9L361.1 90.0L363.6 87.1L364.8 86.3L365.6 86.2L366.8 87.0L367.9 88.6L369.6 91.3L372.4 97.2L375.0 100.5L376.7 102.4L378.1 103.7L379.6 104.5L380.7 104.7L381.6 104.4L382.4 103.8L385.8 99.9L388.9 94.5L389.8 93.4L390.7 92.9L391.2 93.1L391.8 94.2L392.4 96.0L397.5 116.3L401.2 129.0L402.9 133.2L404.3 135.9L405.2 137.0L407.2 138.7L408.6 139.3L416.0 139.9L445.5 140.1" fill="none" stroke="#70c048" stroke-width="1.2" stroke-linejoin="round"/>
<path d="M275.2 13.6L278.3 37.3L279.7 45.8L281.4 54.2L282.9 60.0L284.0 63.6L286.3 68.3L287.1 69.6L288.0 70.4L289.1 70.9L290.5 70.7L296.2 66.9L297.6 66.3L298.8 66.3L301.1 67.0L302.2 67.1L304.5 66.8L307.0 66.0L308.5 64.6L311.3 60.8L314.7 55.3L315.6 54.6L316.1 54.5L317.3 55.4L318.4 57.3L328.9 81.0L330.6 84.0L332.6 85.6L335.2 87.3L341.2 90.1L347.1 93.3L349.4 94.1L351.4 94.3L353.7 93.9L355.4 93.1L358.2 90.4L361.1 85.6L363.6 82.2L364.8 81.2L365.6 81.1L366.8 81.9L367.9 83.6L369.6 86.6L372.4 93.1L375.0 96.7L376.7 98.8L378.1 100.2L379.6 101.0L380.7 101.2L381.8 100.6L383.5 98.7L386.1 95.2L389.5 88.5L390.4 87.6L390.9 87.5L391.5 88.3L392.4 91.0L397.5 113.7L400.9 126.9L402.0 130.3L403.7 134.5L404.9 136.5L406.3 138.0L407.4 138.9L408.3 139.3L414.3 139.8L422.2 140.0L445.5 140.1" fill="none" stroke="#b0d040" stroke-width="1.2" stroke-linejoin="round"/>
<path d="M275.2 12.8L278.3 36.8L279.7 45.3L281.4 53.7L282.9 59.6L284.0 63.1L286.3 67.8L287.1 69.1L288.0 70.0L289.1 70.4L290.5 70.1L295.9 66.4L297.4 65.7L298.5 65.6L301.3 66.3L302.5 66.4L304.8 66.0L307.0 65.2L308.5 63.8L311.3 60.0L314.4 54.7L315.3 53.8L316.1 53.7L317.3 54.6L318.4 56.6L326.4 74.7L329.5 81.4L330.6 83.2L332.3 84.5L334.9 85.9L341.2 88.5L347.1 91.4L349.1 92.0L351.1 92.1L353.7 91.7L355.4 90.8L358.2 88.0L361.1 83.0L363.6 79.3L364.8 78.2L365.6 78.1L366.8 79.0L367.9 80.7L369.6 83.9L372.4 90.7L375.0 94.5L376.7 96.7L378.1 98.1L379.6 99.0L380.7 99.1L381.8 98.5L383.5 96.4L386.1 92.6L389.5 85.5L390.4 84.5L390.9 84.4L391.5 85.2L392.4 88.1L397.5 112.1L401.2 127.2L402.6 131.4L404.0 134.8L404.9 136.3L406.3 137.9L407.4 138.9L408.3 139.3L414.3 139.8L421.9 140.0L445.5 140.1" fill="none" stroke="#f0e028" stroke-width="1.2" stroke-linejoin="round"/>
<path d="M275.2 12.1L278.3 36.3L279.7 44.9L281.4 53.4L282.9 59.3L284.0 62.8L286.3 67.5L287.1 68.8L288.0 69.6L289.1 70.0L290.2 69.8L293.1 67.9L295.9 65.8L297.4 65.1L298.5 65.0L301.3 65.8L302.5 65.8L304.8 65.4L307.0 64.6L308.5 63.2L311.3 59.3L314.4 54.0L315.3 53.1L315.8 52.9L316.4 53.1L317.0 53.6L318.1 55.5L326.1 73.6L329.2 80.4L330.6 82.7L332.3 83.8L334.6 85.0L341.2 87.4L346.8 90.0L349.1 90.7L351.1 90.7L353.7 90.1L355.4 89.1L358.2 86.2L361.1 81.0L363.6 77.1L364.8 75.9L365.6 75.7L366.2 76.0L366.8 76.6L367.9 78.5L369.6 81.7L372.4 88.8L375.0 92.8L376.7 95.0L378.1 96.5L379.6 97.4L380.7 97.5L381.8 96.9L383.5 94.7L386.1 90.7L389.5 83.1L390.4 82.1L390.9 82.0L391.5 82.8L392.4 85.8L397.5 110.9L401.2 126.7L402.6 131.1L404.0 134.7L404.9 136.2L406.3 137.9L407.4 138.9L408.3 139.3L414.0 139.8L421.9 140.0L445.5 140.1" fill="none" stroke="#f8d030" stroke-width="1.05" stroke-linejoin="round"/>
<path d="M275.2 11.6L278.3 36.0L279.7 44.7L281.4 53.1L282.9 59.0L284.0 62.6L286.3 67.2L287.1 68.5L288.0 69.3L289.1 69.7L290.2 69.4L295.9 65.4L297.4 64.7L298.5 64.6L301.3 65.4L302.5 65.4L304.8 65.0L307.0 64.1L308.5 62.7L311.3 58.8L314.4 53.5L315.3 52.6L315.8 52.5L316.4 52.7L317.0 53.2L318.1 55.1L326.1 73.2L329.2 79.9L330.4 81.8L331.2 82.6L334.0 83.9L341.2 86.3L346.8 88.8L349.1 89.4L350.8 89.4L353.7 88.6L355.4 87.6L358.2 84.7L361.1 79.5L363.9 75.1L364.8 74.3L365.6 74.0L366.2 74.4L366.8 75.0L367.9 76.9L369.6 80.2L372.4 87.5L375.0 91.5L376.7 93.9L378.1 95.3L379.6 96.2L380.7 96.4L381.8 95.7L383.5 93.4L386.1 89.2L389.5 81.4L390.4 80.4L390.9 80.2L391.5 81.1L392.4 84.2L397.5 110.1L401.2 126.3L402.6 130.8L404.0 134.5L404.9 136.1L406.3 137.8L407.4 138.9L408.3 139.3L414.0 139.8L421.9 140.0L445.5 140.1" fill="none" stroke="#f8b038" stroke-width="1.05" stroke-linejoin="round"/>
<path d="M275.2 11.2L278.3 35.7L279.7 44.4L281.4 52.9L282.9 58.8L284.0 62.4L286.3 67.0L287.1 68.2L288.0 69.1L289.1 69.4L290.2 69.1L295.9 65.0L297.4 64.3L298.5 64.2L301.3 65.0L302.5 65.0L304.8 64.6L307.0 63.7L308.5 62.3L311.3 58.4L314.4 53.0L315.3 52.1L315.8 52.0L316.4 52.2L317.0 52.8L318.1 54.7L325.8 72.2L329.8 80.5L330.9 81.8L334.0 83.2L340.9 85.1L346.3 87.3L348.3 87.9L350.5 88.0L353.4 87.2L355.4 86.1L357.9 83.6L359.1 81.9L361.1 78.0L363.6 73.9L364.8 72.6L365.6 72.4L366.2 72.7L366.8 73.3L367.9 75.3L369.6 78.7L372.4 86.1L374.7 89.9L376.4 92.3L377.9 93.9L379.3 95.0L380.4 95.3L381.0 95.2L381.8 94.5L383.3 92.6L386.1 87.8L389.5 79.7L390.4 78.7L390.9 78.5L391.5 79.4L392.4 82.5L397.5 109.2L401.2 125.9L402.6 130.6L404.0 134.4L404.9 136.1L406.3 137.8L407.4 138.9L408.3 139.3L414.0 139.8L421.7 140.0L445.5 140.0" fill="none" stroke="#f59030" stroke-width="1.05" stroke-linejoin="round"/>
<path d="M275.2 10.7L278.3 35.4L279.7 44.1L281.4 52.6L282.9 58.6L284.0 62.1L286.3 66.7L287.1 68.0L288.0 68.8L289.1 69.1L290.2 68.8L295.9 64.6L297.4 63.9L298.5 63.8L301.1 64.5L302.5 64.6L304.8 64.1L307.0 63.2L308.5 61.8L311.3 57.9L314.4 52.5L315.3 51.6L315.8 51.5L316.4 51.7L317.0 52.3L318.1 54.3L325.5 71.2L329.5 79.5L330.6 81.2L332.9 82.2L340.9 84.1L346.3 86.2L348.3 86.8L350.3 86.8L353.4 85.9L355.4 84.8L357.9 82.2L359.1 80.4L361.1 76.5L363.6 72.3L364.8 71.0L365.6 70.7L366.2 71.0L366.8 71.7L367.9 73.7L369.6 77.1L372.4 84.8L374.7 88.6L376.4 91.1L377.9 92.8L379.3 93.8L380.4 94.1L381.0 94.0L381.8 93.3L383.3 91.4L386.1 86.4L389.5 78.0L390.4 76.9L390.9 76.8L391.5 77.7L392.4 80.9L397.5 108.4L401.2 125.6L402.6 130.4L404.0 134.3L404.9 136.0L406.3 137.8L407.4 138.9L408.3 139.3L413.7 139.8L421.7 140.0L445.5 140.0" fill="none" stroke="#ee6a28" stroke-width="1.05" stroke-linejoin="round"/>
<path d="M275.2 10.2L278.3 35.0L279.7 43.9L281.4 52.4L282.9 58.3L284.0 61.9L286.3 66.5L287.1 67.7L288.0 68.6L289.1 68.9L290.2 68.5L295.9 64.2L297.4 63.5L298.5 63.4L301.1 64.1L302.5 64.2L304.8 63.7L307.0 62.8L308.5 61.4L311.3 57.4L314.4 51.9L315.3 51.1L315.8 51.0L316.4 51.3L317.0 51.9L318.1 53.9L325.5 70.9L329.5 79.2L330.6 80.8L332.1 81.4L334.9 82.1L340.9 83.3L346.0 85.2L348.0 85.8L350.0 85.9L352.3 85.2L354.0 84.5L355.1 83.8L357.9 81.0L359.1 79.1L361.1 75.0L363.6 70.7L364.8 69.3L365.6 69.0L366.2 69.3L366.8 70.0L367.9 72.0L369.6 75.6L372.4 83.5L374.7 87.4L376.4 89.9L377.9 91.6L379.3 92.7L380.4 93.0L381.0 92.9L381.8 92.2L383.3 90.1L386.1 85.0L389.5 76.3L390.4 75.2L390.9 75.0L391.5 75.9L392.4 79.3L397.5 107.5L401.2 125.2L402.6 130.1L404.0 134.2L404.9 135.9L406.3 137.8L407.4 138.9L408.3 139.3L413.7 139.8L421.7 140.0L445.5 140.0" fill="none" stroke="#e64020" stroke-width="1.05" stroke-linejoin="round"/>
<path d="M275.2 9.6L278.3 34.7L279.7 43.6L281.4 52.1L282.9 58.0L284.0 61.6L286.3 66.2L287.1 67.4L288.0 68.3L289.1 68.5L290.2 68.1L295.9 63.7L297.4 63.0L298.5 62.9L301.1 63.7L302.2 63.8L304.2 63.4L306.7 62.4L308.5 60.8L311.3 56.8L314.4 51.3L315.3 50.5L315.8 50.4L316.7 51.0L317.8 52.8L320.7 59.7L326.1 71.8L329.5 78.9L330.4 80.1L330.9 80.6L334.0 81.5L340.9 82.6L346.0 84.4L348.0 85.0L349.7 85.0L351.7 84.5L353.7 83.7L354.8 82.9L357.7 80.0L358.8 78.2L361.1 73.3L363.6 68.8L364.8 67.3L365.6 67.0L366.2 67.3L366.8 68.0L367.9 70.1L369.6 73.8L372.4 81.9L374.7 85.9L376.4 88.5L377.9 90.2L379.3 91.3L380.4 91.6L381.0 91.5L381.8 90.8L383.3 88.6L386.1 83.3L389.5 74.3L390.4 73.1L390.9 72.9L391.5 73.9L392.4 77.3L397.5 106.5L400.9 123.5L402.0 128.0L403.7 133.3L404.9 135.8L406.0 137.4L407.2 138.6L408.3 139.3L412.8 139.7L421.1 140.0L445.5 140.0" fill="none" stroke="#d82818" stroke-width="1.05" stroke-linejoin="round"/>
<path d="M275.2 9.1L278.3 34.4L279.7 43.3L281.1 50.5L282.6 56.7L284.0 61.4L286.0 65.4L287.7 67.8L288.3 68.1L288.8 68.3L290.0 67.9L295.9 63.3L297.4 62.6L298.5 62.5L301.1 63.3L302.2 63.3L304.2 63.0L306.7 62.0L308.5 60.4L311.3 56.4L314.4 50.8L315.3 50.0L315.8 49.9L316.7 50.5L317.8 52.4L320.7 59.4L326.1 71.5L329.5 78.6L330.4 79.8L330.9 80.3L333.8 80.9L340.9 81.9L346.3 83.8L348.0 84.2L350.0 84.2L352.0 83.5L353.7 82.7L354.8 81.9L356.2 80.5L357.9 78.4L359.1 76.4L361.1 71.9L363.6 67.2L364.8 65.7L365.6 65.4L366.2 65.7L366.8 66.4L367.9 68.5L369.6 72.2L372.4 80.5L374.7 84.6L376.4 87.3L377.9 89.1L379.3 90.2L380.4 90.5L381.0 90.3L381.8 89.6L383.3 87.4L386.1 81.9L389.5 72.6L390.4 71.4L390.9 71.2L391.5 72.2L392.4 75.7L397.5 105.6L400.9 123.1L402.0 127.7L403.7 133.1L404.9 135.7L406.0 137.3L407.2 138.6L408.3 139.3L412.6 139.7L421.1 140.0L445.5 140.0" fill="none" stroke="#c01410" stroke-width="1.05" stroke-linejoin="round"/>
<path d="M275.2 8.6L278.3 34.0L279.7 43.0L281.1 50.3L282.6 56.5L284.0 61.1L286.0 65.2L287.7 67.5L288.3 67.9L288.8 68.0L290.0 67.6L295.9 62.9L297.4 62.1L298.5 62.1L301.1 62.8L302.2 62.9L304.2 62.5L306.7 61.5L308.5 59.9L311.3 55.8L314.4 50.3L315.3 49.4L315.8 49.4L316.7 50.0L317.8 52.0L320.7 59.1L325.8 70.7L329.2 77.8L330.6 79.8L333.2 80.5L340.9 81.4L346.3 83.1L348.0 83.5L350.0 83.5L352.0 82.7L353.7 81.9L354.8 81.0L357.7 77.7L358.8 75.7L361.1 70.4L363.6 65.5L364.8 63.9L365.6 63.6L366.2 63.9L366.8 64.6L367.9 66.8L369.6 70.6L372.4 79.1L374.7 83.3L376.4 86.0L377.9 87.8L379.3 89.0L380.4 89.3L381.0 89.1L381.8 88.3L383.3 86.0L386.1 80.4L389.5 70.8L390.4 69.5L390.9 69.3L391.5 70.3L392.4 73.9L397.5 104.7L400.9 122.7L402.0 127.4L403.7 133.0L404.9 135.6L406.0 137.3L407.2 138.6L408.0 139.2L412.3 139.7L420.8 140.0L445.5 140.0" fill="none" stroke="#a80c0c" stroke-width="1.05" stroke-linejoin="round"/>
<path d="M275.2 7.9L278.3 33.5L279.7 42.6L281.1 49.9L282.6 56.1L284.0 60.8L286.0 64.8L287.7 67.1L288.5 67.5L289.7 67.2L295.9 62.3L297.4 61.5L298.5 61.5L301.1 62.2L302.2 62.3L304.2 61.9L306.7 60.9L308.5 59.2L311.3 55.1L314.4 49.5L315.3 48.7L315.8 48.6L316.7 49.3L317.6 50.7L321.0 59.3L325.8 70.4L329.2 77.5L330.6 79.5L332.9 80.0L340.9 80.7L346.3 82.4L348.0 82.7L350.0 82.6L352.0 81.8L353.7 80.9L354.8 79.9L357.7 76.2L358.8 74.0L361.4 67.7L363.6 63.0L364.8 61.4L365.6 61.0L366.2 61.3L366.8 62.1L367.9 64.3L369.6 68.3L372.4 77.1L374.7 81.4L376.4 84.2L377.9 86.1L379.3 87.3L380.4 87.6L381.0 87.4L381.8 86.5L383.3 84.1L386.1 78.2L389.5 68.2L390.4 66.9L390.9 66.7L391.5 67.7L392.4 71.5L397.5 103.4L400.9 122.1L402.0 126.9L403.7 132.8L404.9 135.5L406.0 137.2L407.2 138.6L408.0 139.2L412.3 139.7L420.8 140.0L445.5 140.0" fill="none" stroke="#960808" stroke-width="1.6" stroke-linejoin="round"/>
</g>
<line x1="275.20" y1="8.10" x2="445.30" y2="8.10" stroke="#888" stroke-width="1.2" />
<line x1="275.20" y1="8.10" x2="275.20" y2="147.50" stroke="#888" stroke-width="1.2" />
<line x1="275.20" y1="147.50" x2="445.30" y2="147.50" stroke="#888" stroke-width="1.2" />
<line x1="445.30" y1="8.10" x2="445.30" y2="147.50" stroke="#888" stroke-width="1.2" />
<line x1="272.70" y1="141.10" x2="275.20" y2="141.10" stroke="#888" stroke-width="1.2" />
<text x="268.30" y="139.80" font-size="11" text-anchor="end" font-weight="normal" fill="#111" >0.0</text>
<line x1="272.70" y1="97.57" x2="275.20" y2="97.57" stroke="#888" stroke-width="1.2" />
<text x="268.30" y="102.30" font-size="11" text-anchor="end" font-weight="normal" fill="#111" >0.1</text>
<line x1="272.70" y1="54.04" x2="275.20" y2="54.04" stroke="#888" stroke-width="1.2" />
<text x="268.30" y="58.60" font-size="11" text-anchor="end" font-weight="normal" fill="#111" >0.2</text>
<line x1="272.70" y1="10.51" x2="275.20" y2="10.51" stroke="#888" stroke-width="1.2" />
<text x="268.30" y="15.20" font-size="11" text-anchor="end" font-weight="normal" fill="#111" >0.3</text>
<line x1="273.70" y1="119.33" x2="275.20" y2="119.33" stroke="#888" stroke-width="1.2" />
<line x1="273.70" y1="75.80" x2="275.20" y2="75.80" stroke="#888" stroke-width="1.2" />
<line x1="273.70" y1="32.27" x2="275.20" y2="32.27" stroke="#888" stroke-width="1.2" />
<line x1="295.70" y1="147.50" x2="295.70" y2="149.70" stroke="#888" stroke-width="1.2" />
<text x="293.20" y="159.70" font-size="11" text-anchor="middle" font-weight="normal" fill="#111" >300</text>
<line x1="370.62" y1="147.50" x2="370.62" y2="149.70" stroke="#888" stroke-width="1.2" />
<text x="370.62" y="159.70" font-size="11" text-anchor="middle" font-weight="normal" fill="#111" >350</text>
<line x1="445.55" y1="147.50" x2="445.55" y2="149.70" stroke="#888" stroke-width="1.2" />
<text x="445.55" y="159.70" font-size="11" text-anchor="middle" font-weight="normal" fill="#111" >400</text>
<line x1="333.16" y1="147.50" x2="333.16" y2="149.00" stroke="#888" stroke-width="1.2" />
<line x1="408.09" y1="147.50" x2="408.09" y2="149.00" stroke="#888" stroke-width="1.2" />
<text x="360.70" y="172.50" font-size="11" text-anchor="middle" font-weight="normal" fill="#111"  textLength="85.20" lengthAdjust="spacingAndGlyphs">Wavelength (nm)</text>
<text x="248.80" y="77.50" font-size="11" text-anchor="middle" font-weight="normal" fill="#111" transform="rotate(-90 248.8 77.5)">Absorbance</text>
<text x="235.30" y="11.50" font-size="13.2" text-anchor="start" font-weight="bold" fill="#111" style="stroke-width:0">b</text>
<defs><linearGradient id="g414" x1="0" y1="1" x2="0" y2="0"><stop offset="0" stop-color="#1f6fd0"/><stop offset="0.22" stop-color="#1a8a6a"/><stop offset="0.42" stop-color="#4a9a30"/><stop offset="0.58" stop-color="#e8c040"/><stop offset="0.75" stop-color="#f89030"/><stop offset="1" stop-color="#ee1c10"/></linearGradient></defs>
<rect x="413.50" y="33.30" width="1.6" height="40.70" fill="url(#g414)"/>
<polygon points="414.30,29.30 411.70,34.30 416.90,34.30" fill="#ee1c10"/>
<text x="414.00" y="25.40" font-size="11" text-anchor="middle" font-weight="normal" fill="#111" >30 s</text>
<text x="414.20" y="83.50" font-size="11" text-anchor="middle" font-weight="normal" fill="#111" >0 s</text>
<g clip-path="url(#clip510)">
<clipPath id="clip510"><rect x="510.50" y="5.40" width="177.10" height="141.60"/></clipPath>
<path d="M510.6 30.2L513.6 47.5L515.4 55.3L517.1 62.1L519.2 68.0L522.2 73.9L524.2 76.9L525.7 78.0L526.9 78.1L528.1 77.6L531.3 75.5L532.2 75.2L533.1 75.2L535.2 75.8L541.7 79.2L542.5 79.4L543.4 79.4L544.0 79.1L544.9 78.1L547.9 73.4L550.5 67.3L551.4 65.7L552.3 65.1L553.8 65.6L555.8 67.7L557.0 69.4L560.0 77.6L565.3 91.2L569.4 99.2L573.8 106.2L578.3 111.8L583.6 117.2L589.8 122.3L597.7 127.9L600.1 129.3L603.4 130.7L613.7 134.3L622.3 136.9L628.7 138.3L639.4 139.4L659.2 140.8L673.9 141.2L687.5 141.4" fill="none" stroke="#2d2d8a" stroke-width="1.25" stroke-linejoin="round"/>
<path d="M510.6 30.9L513.9 49.1L517.1 61.7L518.3 65.3L519.5 68.0L522.2 73.0L523.9 75.5L525.4 76.6L526.6 76.8L528.1 76.2L531.3 74.1L532.2 73.8L533.1 73.8L534.9 74.3L541.1 77.1L542.2 77.4L543.4 77.2L544.9 75.9L547.9 71.2L550.5 65.4L551.4 63.9L552.3 63.4L553.5 63.9L555.5 66.1L557.0 68.3L560.0 76.7L564.4 88.0L567.0 93.5L570.3 99.0L574.1 104.3L578.3 109.0L583.9 114.1L588.9 118.0L591.8 119.6L596.0 121.5L598.3 122.3L602.8 123.3L604.8 124.1L615.8 129.6L618.4 130.7L620.2 131.1L622.3 131.4L625.2 131.4L628.7 131.1L630.5 131.3L637.9 136.0L640.9 137.6L643.5 138.8L646.2 139.6L649.4 140.1L660.9 140.9L687.5 141.4" fill="none" stroke="#3b3ba6" stroke-width="1.25" stroke-linejoin="round"/>
<path d="M510.6 31.5L513.9 49.2L515.7 56.3L517.4 62.4L518.9 66.3L521.3 70.9L523.1 73.6L524.8 75.3L526.0 75.8L527.2 75.6L531.0 73.1L531.9 72.7L532.8 72.6L534.6 73.0L540.8 75.6L542.2 75.8L543.4 75.5L544.9 74.1L547.9 69.4L551.1 62.8L552.0 62.1L552.6 62.1L553.5 62.6L554.3 63.5L556.7 66.6L557.6 68.7L561.1 78.8L564.4 86.8L566.7 91.5L570.0 96.7L573.5 101.2L577.4 105.2L583.3 110.2L588.3 113.8L591.3 115.3L596.0 117.0L598.0 117.4L602.2 117.5L604.2 118.1L606.6 119.4L616.1 125.5L618.7 126.8L620.2 127.0L622.0 127.0L625.2 126.5L628.7 125.3L630.2 125.5L631.4 126.4L634.1 129.1L638.2 133.7L641.7 136.9L644.1 138.4L647.6 139.8L651.5 140.3L661.2 140.9L687.5 141.5" fill="none" stroke="#3a7bd2" stroke-width="1.25" stroke-linejoin="round"/>
<path d="M510.6 32.0L513.9 49.3L515.4 55.2L517.1 61.1L518.9 65.9L521.0 69.8L522.8 72.5L524.5 74.2L525.7 74.7L526.9 74.5L528.1 74.0L531.0 71.9L532.5 71.5L534.6 71.9L540.5 74.1L541.9 74.2L543.1 73.9L544.3 73.0L545.8 71.0L548.1 67.0L550.8 61.8L551.7 60.8L552.6 60.8L553.5 61.4L554.3 62.3L556.7 65.7L557.9 68.6L560.8 77.2L563.8 84.5L566.2 89.3L569.4 94.5L572.4 98.1L576.2 101.8L582.7 107.0L587.4 110.2L590.4 111.5L595.4 112.7L597.5 112.7L601.9 111.9L603.9 112.2L606.6 113.8L616.1 121.3L617.5 122.2L619.0 122.8L620.5 122.8L622.3 122.5L625.2 121.5L628.5 119.6L629.3 119.4L629.9 119.5L630.5 119.9L631.4 120.9L634.4 125.2L637.9 130.7L642.0 136.0L644.1 137.8L646.5 139.2L648.2 139.9L653.0 140.5L661.5 141.0L687.5 141.5" fill="none" stroke="#32a8c8" stroke-width="1.25" stroke-linejoin="round"/>
<path d="M510.6 32.7L513.9 49.4L515.4 55.1L517.1 60.8L518.6 64.7L520.7 68.7L522.5 71.4L524.2 73.0L525.4 73.5L526.9 73.3L528.1 72.7L530.7 70.8L532.5 70.3L534.3 70.5L540.2 72.5L541.7 72.5L543.1 72.0L544.3 71.0L545.5 69.4L547.9 65.6L550.8 60.1L551.7 59.2L552.3 59.2L553.2 59.8L554.1 60.7L556.7 64.7L560.8 76.4L563.2 82.3L565.6 87.2L568.5 91.8L570.9 94.8L574.4 98.2L577.7 100.7L585.6 106.2L587.7 107.4L589.5 107.9L591.5 108.2L594.8 108.1L596.9 107.7L601.6 105.7L602.8 105.5L603.9 105.8L605.1 106.4L606.6 107.6L616.1 116.6L617.5 117.6L619.0 118.2L620.5 118.1L622.3 117.5L625.2 115.9L628.5 113.2L629.3 112.9L629.9 113.0L630.5 113.5L631.4 114.8L634.4 120.4L637.9 127.8L642.0 134.7L644.1 137.2L646.8 139.1L648.5 139.9L653.5 140.5L661.5 141.0L687.5 141.6" fill="none" stroke="#2eb5b0" stroke-width="1.25" stroke-linejoin="round"/>
<path d="M510.6 33.2L513.9 49.5L515.4 55.0L516.9 59.7L518.6 64.3L520.4 67.7L522.2 70.4L523.9 72.0L525.4 72.4L526.9 72.2L528.1 71.6L530.7 69.6L532.2 69.2L534.3 69.4L539.9 71.2L541.1 71.1L542.5 70.6L543.7 69.8L545.2 68.1L550.8 58.6L551.7 57.8L552.3 57.9L553.2 58.5L554.1 59.6L556.7 63.8L560.5 74.9L562.6 80.2L565.3 85.7L567.9 89.9L570.6 93.1L573.2 95.5L576.2 97.7L584.2 102.8L588.0 104.8L589.5 105.1L591.3 105.0L594.8 104.2L596.0 103.8L600.4 100.8L601.6 100.1L602.8 99.9L603.9 100.0L605.1 100.7L606.6 102.0L616.3 112.6L617.8 113.7L619.3 114.2L620.8 113.9L622.3 113.1L625.2 111.0L628.5 107.5L629.3 107.1L629.9 107.2L630.5 107.7L631.4 109.4L634.4 116.2L637.9 125.2L642.0 133.6L644.1 136.6L646.8 138.9L648.5 139.9L653.3 140.5L660.9 141.0L687.5 141.6" fill="none" stroke="#26ad8e" stroke-width="1.25" stroke-linejoin="round"/>
<path d="M510.6 33.7L513.6 48.3L515.1 54.0L516.6 58.6L518.3 63.2L520.1 66.7L521.9 69.4L523.6 71.1L525.1 71.5L526.6 71.4L527.8 70.8L530.7 68.6L532.2 68.2L534.3 68.4L539.6 70.0L540.8 70.0L541.9 69.5L543.4 68.6L544.9 67.0L550.5 57.6L551.4 56.7L552.3 56.7L553.2 57.4L554.1 58.5L556.7 62.9L561.4 76.5L563.5 81.3L565.3 84.7L567.3 87.8L569.7 90.7L571.5 92.4L574.1 94.2L585.6 100.7L587.7 101.6L589.2 101.9L591.5 101.5L595.4 100.3L596.9 99.3L601.3 95.5L602.8 94.9L603.9 95.0L605.1 95.7L606.6 97.1L611.6 103.1L616.1 108.6L617.5 109.9L619.0 110.6L620.5 110.3L622.0 109.4L625.2 106.6L628.5 102.5L629.3 102.0L629.9 102.1L630.5 102.7L631.4 104.6L634.4 112.5L637.9 122.9L641.7 132.0L642.9 134.3L644.1 136.0L646.2 138.2L647.6 139.4L649.4 140.1L658.6 141.0L673.3 141.4L687.5 141.6" fill="none" stroke="#1a7860" stroke-width="1.25" stroke-linejoin="round"/>
<path d="M510.6 34.2L513.6 48.4L514.8 52.9L516.3 57.6L518.0 62.2L519.8 65.8L521.6 68.5L522.5 69.5L523.3 70.2L524.8 70.7L526.6 70.4L527.8 69.8L530.7 67.6L531.9 67.2L534.0 67.4L539.3 68.9L540.2 68.9L541.4 68.5L543.1 67.3L544.9 65.4L550.5 56.2L551.4 55.4L552.3 55.5L553.2 56.3L554.1 57.5L556.7 62.0L561.1 75.1L562.9 79.2L564.7 82.8L566.2 85.2L568.5 88.2L570.3 90.0L572.1 91.3L574.4 92.6L579.7 95.1L585.6 98.1L587.7 98.9L588.9 99.1L591.3 98.6L595.1 96.8L596.9 95.4L601.3 90.7L602.8 89.9L603.9 90.0L605.1 90.7L606.6 92.3L611.6 98.8L616.1 104.9L617.5 106.4L619.0 107.0L620.5 106.7L622.0 105.6L625.2 102.3L628.5 97.5L629.3 96.9L629.9 97.0L630.5 97.7L631.4 99.8L634.4 108.7L637.9 120.6L641.7 130.9L642.9 133.5L644.1 135.5L646.2 137.9L647.6 139.3L649.4 140.1L658.3 141.0L673.0 141.5L687.5 141.6" fill="none" stroke="#1f9a50" stroke-width="1.25" stroke-linejoin="round"/>
<path d="M510.6 34.7L513.6 48.6L516.0 56.6L518.0 61.9L519.5 64.9L521.3 67.6L523.1 69.3L524.5 69.8L526.3 69.6L527.8 68.9L530.7 66.6L531.9 66.2L534.0 66.4L539.3 67.7L540.2 67.7L541.1 67.4L542.8 66.1L544.6 64.2L549.9 55.6L551.1 54.3L552.0 54.2L552.9 54.9L553.8 56.0L556.4 60.6L557.6 63.6L561.4 75.2L563.2 79.2L565.0 82.6L566.5 84.7L569.1 87.8L570.9 89.3L572.9 90.5L579.7 93.1L586.2 96.2L587.7 96.6L589.2 96.6L591.3 95.8L595.1 93.3L596.6 91.9L599.8 87.5L601.3 85.8L602.8 84.9L603.9 84.9L605.1 85.7L606.6 87.4L611.6 94.5L616.1 101.2L617.5 102.8L619.0 103.5L619.6 103.4L620.5 103.0L622.0 101.7L625.2 97.9L628.5 92.5L629.3 91.8L629.9 91.9L630.5 92.7L631.4 95.1L634.4 105.0L637.9 118.3L642.0 130.7L643.2 133.4L644.1 135.0L646.5 138.0L648.2 139.6L649.1 140.0L651.2 140.3L659.5 141.1L674.2 141.5L687.5 141.7" fill="none" stroke="#2aaa48" stroke-width="1.25" stroke-linejoin="round"/>
<path d="M510.6 35.2L513.3 47.5L515.7 55.7L517.7 60.8L519.2 63.9L521.0 66.7L522.8 68.4L524.2 68.9L526.0 68.6L527.8 67.7L530.4 65.6L531.6 65.1L533.7 65.2L539.3 66.5L540.8 66.1L542.5 64.7L544.6 62.4L549.9 54.0L550.8 53.1L551.7 52.8L552.6 53.3L553.5 54.4L556.4 59.7L557.6 62.8L561.1 73.8L562.3 76.6L564.4 80.7L566.2 83.4L568.5 86.0L570.3 87.6L572.1 88.5L579.7 90.9L586.5 93.7L588.0 94.0L589.2 93.8L591.3 92.6L595.1 89.4L596.6 87.5L601.0 80.7L602.5 79.3L603.7 79.1L604.8 79.7L606.3 81.4L611.6 89.6L614.9 95.2L616.3 97.4L617.8 98.9L618.7 99.3L619.3 99.4L620.8 98.6L622.3 97.0L625.2 93.0L628.5 86.8L629.3 86.0L629.9 86.1L630.5 87.0L631.4 89.6L634.4 100.8L637.9 115.7L641.7 128.7L643.8 133.9L645.9 137.0L647.3 138.8L648.5 139.8L649.4 140.1L656.8 140.9L671.0 141.5L687.5 141.7" fill="none" stroke="#80c44a" stroke-width="1.25" stroke-linejoin="round"/>
<path d="M510.6 35.7L513.3 47.6L515.7 55.6L518.9 63.0L520.7 65.9L522.2 67.5L523.6 68.2L524.5 68.2L525.7 67.9L527.8 66.9L530.4 64.7L531.6 64.3L533.7 64.4L539.0 65.5L539.6 65.5L540.5 65.2L542.2 63.8L544.9 60.7L549.9 52.8L551.1 51.8L552.0 51.8L552.6 52.3L553.5 53.5L556.4 59.0L557.6 62.1L561.1 73.2L564.1 79.4L565.9 82.2L567.6 84.1L569.7 86.0L571.5 87.0L573.8 87.7L579.7 89.0L586.8 91.5L588.0 91.7L589.2 91.4L591.3 90.0L595.1 86.3L596.6 84.2L601.0 76.6L602.5 75.1L603.7 74.8L604.2 75.0L605.1 75.7L606.6 77.7L611.6 86.0L614.9 91.9L616.3 94.3L617.8 95.9L618.7 96.3L619.3 96.3L619.9 96.1L620.8 95.4L622.3 93.6L625.2 89.3L628.5 82.5L629.3 81.6L629.9 81.7L630.5 82.7L631.4 85.5L634.4 97.6L637.9 113.7L641.7 127.8L643.8 133.4L645.9 136.8L647.3 138.7L648.5 139.7L649.4 140.1L656.5 140.9L670.7 141.5L687.5 141.7" fill="none" stroke="#c8dc40" stroke-width="1.25" stroke-linejoin="round"/>
<path d="M510.6 35.9L513.3 47.7L515.4 54.7L517.1 59.1L518.9 62.8L520.4 65.2L521.9 67.0L523.3 67.7L524.2 67.8L525.4 67.5L527.5 66.5L530.4 64.2L531.6 63.7L533.7 63.8L539.0 64.9L539.6 64.9L540.5 64.5L541.9 63.3L544.9 59.8L549.9 51.9L550.8 51.2L551.7 51.0L552.6 51.6L553.5 52.8L556.4 58.4L557.6 61.6L561.1 72.7L563.8 78.3L565.3 80.7L566.5 82.2L569.1 84.7L571.2 85.9L573.5 86.5L579.7 87.4L586.8 89.6L588.0 89.8L589.2 89.4L591.3 88.0L595.1 84.1L596.6 81.9L601.0 73.9L602.5 72.3L603.7 71.9L604.2 72.1L605.1 72.9L606.6 74.9L611.6 83.5L614.9 89.7L616.3 92.2L617.8 93.8L618.7 94.3L619.3 94.3L620.5 93.6L622.0 91.9L625.2 86.8L628.5 79.6L629.3 78.7L629.9 78.8L630.5 79.8L631.4 82.8L634.4 95.5L637.9 112.4L641.7 127.2L643.8 133.1L645.9 136.6L647.3 138.6L648.5 139.7L649.4 140.1L656.5 141.0L670.7 141.5L687.5 141.8" fill="none" stroke="#f0e22e" stroke-width="1.25" stroke-linejoin="round"/>
<path d="M510.6 36.1L513.3 47.8L515.4 54.7L518.9 62.6L520.4 65.0L521.9 66.7L522.8 67.3L523.3 67.4L524.2 67.4L525.4 67.1L527.5 66.1L530.1 63.9L531.3 63.3L533.4 63.4L539.0 64.4L540.2 64.2L541.9 62.7L544.9 59.2L549.6 51.7L550.8 50.6L551.7 50.4L552.6 51.1L553.5 52.3L556.4 58.0L557.6 61.2L561.1 72.3L563.8 77.8L565.3 80.2L566.5 81.6L569.1 84.0L570.9 85.0L573.2 85.5L579.4 86.0L587.1 88.2L588.0 88.2L589.2 87.9L591.3 86.3L595.4 82.0L596.9 79.6L601.0 71.8L602.5 70.1L603.1 69.8L603.7 69.8L604.2 70.0L605.1 70.7L606.6 72.8L611.6 81.7L614.9 88.1L616.3 90.6L617.8 92.3L618.7 92.7L619.3 92.7L620.5 92.0L622.0 90.2L625.2 84.9L628.5 77.5L629.3 76.5L629.9 76.6L630.5 77.7L631.4 80.8L634.4 93.9L637.9 111.4L641.7 126.7L643.8 132.8L645.9 136.5L647.3 138.6L648.5 139.7L649.4 140.1L656.2 140.9L670.1 141.5L687.5 141.8" fill="none" stroke="#f8d23a" stroke-width="1.25" stroke-linejoin="round"/>
<path d="M510.6 36.4L513.3 47.9L515.4 54.7L518.9 62.4L520.4 64.8L521.9 66.4L522.8 66.9L523.3 67.0L525.1 66.7L527.5 65.6L530.1 63.4L531.3 62.8L533.4 62.8L538.7 63.7L539.6 63.7L540.2 63.5L541.7 62.2L544.9 58.3L549.6 50.8L550.8 49.8L551.7 49.7L552.6 50.4L553.5 51.7L556.4 57.5L557.6 60.7L561.1 71.9L563.5 76.8L565.0 79.3L566.2 80.8L568.8 83.1L570.9 84.2L572.9 84.5L579.4 84.7L587.1 86.7L588.0 86.7L589.2 86.3L591.3 84.6L595.4 79.9L596.9 77.4L601.0 69.1L602.5 67.3L603.1 67.0L603.7 66.9L604.2 67.1L605.1 67.9L606.6 70.0L611.6 79.2L614.9 85.9L616.3 88.5L617.8 90.3L618.7 90.7L619.3 90.7L620.5 90.0L622.0 88.0L625.2 82.5L628.5 74.6L629.3 73.6L629.9 73.7L630.5 74.8L631.4 78.1L634.4 91.8L637.9 110.1L641.7 126.1L643.8 132.5L645.9 136.3L647.3 138.5L648.5 139.7L649.4 140.1L656.2 141.0L670.1 141.5L687.5 141.8" fill="none" stroke="#f8b444" stroke-width="1.25" stroke-linejoin="round"/>
<path d="M510.6 36.7L513.3 47.9L515.4 54.7L518.9 62.2L520.4 64.5L521.9 66.1L522.8 66.6L523.3 66.6L525.1 66.2L527.5 65.0L530.1 62.8L531.3 62.2L533.4 62.3L538.7 63.1L539.6 63.1L540.2 62.8L541.7 61.5L544.9 57.4L548.4 51.6L549.6 50.0L550.8 49.1L551.7 49.0L552.6 49.8L553.5 51.1L556.4 57.0L561.1 71.5L563.5 76.4L565.0 78.8L566.2 80.2L568.8 82.4L570.9 83.4L572.9 83.6L579.4 83.5L585.6 85.0L587.4 85.2L588.3 85.1L589.2 84.6L591.3 82.8L595.1 78.3L596.6 75.8L601.0 66.4L602.5 64.5L603.1 64.1L603.7 64.0L604.2 64.2L605.1 65.0L606.6 67.3L611.6 76.8L614.9 83.7L616.3 86.4L617.8 88.2L618.7 88.7L619.3 88.7L620.5 87.9L622.0 85.8L625.2 80.0L628.5 71.8L629.3 70.7L629.9 70.8L630.5 72.0L631.4 75.3L634.4 89.7L637.9 108.8L641.7 125.5L643.8 132.2L645.9 136.2L647.3 138.4L648.5 139.7L649.4 140.1L656.2 141.0L670.1 141.6L687.5 141.8" fill="none" stroke="#f59234" stroke-width="1.25" stroke-linejoin="round"/>
<path d="M510.6 37.0L513.3 48.0L515.4 54.6L519.2 62.4L520.7 64.6L521.9 65.8L523.1 66.3L524.8 65.9L527.5 64.5L530.1 62.2L531.3 61.6L533.1 61.7L538.7 62.5L539.6 62.4L540.2 62.2L541.7 60.7L544.9 56.5L549.3 49.5L550.5 48.4L551.1 48.2L551.7 48.3L552.6 49.1L553.5 50.5L556.4 56.6L560.8 70.3L561.7 72.6L563.2 75.5L564.7 77.9L566.2 79.7L568.8 81.8L570.6 82.7L572.7 82.8L579.4 82.4L581.2 82.6L585.6 83.7L587.4 83.9L588.3 83.7L589.2 83.2L591.3 81.3L595.1 76.3L596.6 73.6L601.0 63.7L602.5 61.6L603.1 61.3L603.7 61.2L604.2 61.4L605.1 62.2L606.6 64.5L611.6 74.4L614.9 81.5L616.3 84.3L617.8 86.2L618.7 86.7L619.3 86.6L620.5 85.8L622.0 83.6L625.2 77.5L628.5 68.9L629.3 67.8L629.6 67.7L629.9 67.9L630.5 69.1L631.4 72.6L634.4 87.5L637.9 107.4L641.7 124.9L643.8 131.8L645.9 136.0L647.3 138.4L648.5 139.6L649.4 140.1L655.9 141.0L669.5 141.6L687.5 141.8" fill="none" stroke="#f05a28" stroke-width="1.25" stroke-linejoin="round"/>
<path d="M510.6 37.2L513.3 48.1L515.7 55.3L518.0 60.1L519.8 63.2L521.3 65.1L522.8 65.9L523.9 65.8L525.7 65.0L527.8 63.8L530.1 61.8L531.3 61.2L533.1 61.3L538.4 62.0L539.3 62.0L540.2 61.7L541.7 60.1L544.9 55.8L549.3 48.9L550.2 48.0L550.8 47.7L551.4 47.7L552.0 48.0L553.5 50.0L556.4 56.2L560.8 70.0L561.7 72.3L562.9 74.6L564.7 77.5L566.2 79.2L568.8 81.2L570.6 82.0L572.7 82.0L579.1 81.2L580.9 81.4L586.8 82.5L588.0 82.4L589.2 81.8L591.3 79.8L595.1 74.7L596.6 71.9L601.0 61.6L602.5 59.5L603.1 59.1L603.7 59.0L604.2 59.2L605.1 60.0L606.6 62.4L611.6 72.5L614.9 79.9L616.3 82.7L617.8 84.7L618.7 85.1L619.3 85.1L620.5 84.2L622.0 82.0L625.2 75.6L628.5 66.8L629.3 65.6L629.6 65.5L629.9 65.7L630.5 66.9L631.4 70.6L634.4 86.0L637.9 106.5L641.7 124.4L643.8 131.6L645.9 135.9L647.3 138.3L648.5 139.6L649.4 140.1L655.9 141.0L669.5 141.6L687.5 141.8" fill="none" stroke="#e82020" stroke-width="1.9" stroke-linejoin="round"/>
</g>
<line x1="510.50" y1="8.40" x2="687.60" y2="8.40" stroke="#666" stroke-width="1.2" />
<line x1="510.50" y1="8.40" x2="510.50" y2="147.00" stroke="#666" stroke-width="1.2" />
<line x1="510.50" y1="147.00" x2="687.60" y2="147.00" stroke="#666" stroke-width="1.2" />
<line x1="687.60" y1="8.40" x2="687.60" y2="147.00" stroke="#666" stroke-width="1.2" />
<line x1="508.00" y1="141.40" x2="510.50" y2="141.40" stroke="#666" stroke-width="1.2" />
<text x="503.40" y="146.10" font-size="11" text-anchor="end" font-weight="normal" fill="#111" >0.0</text>
<line x1="508.00" y1="97.80" x2="510.50" y2="97.80" stroke="#666" stroke-width="1.2" />
<text x="503.40" y="102.10" font-size="11" text-anchor="end" font-weight="normal" fill="#111" >0.1</text>
<line x1="508.00" y1="54.20" x2="510.50" y2="54.20" stroke="#666" stroke-width="1.2" />
<text x="503.40" y="58.50" font-size="11" text-anchor="end" font-weight="normal" fill="#111" >0.2</text>
<line x1="508.00" y1="10.60" x2="510.50" y2="10.60" stroke="#666" stroke-width="1.2" />
<text x="503.40" y="14.70" font-size="11" text-anchor="end" font-weight="normal" fill="#111" >0.3</text>
<line x1="509.00" y1="119.60" x2="510.50" y2="119.60" stroke="#666" stroke-width="1.2" />
<line x1="509.00" y1="76.00" x2="510.50" y2="76.00" stroke="#666" stroke-width="1.2" />
<line x1="509.00" y1="32.40" x2="510.50" y2="32.40" stroke="#666" stroke-width="1.2" />
<line x1="530.30" y1="147.00" x2="530.30" y2="149.20" stroke="#666" stroke-width="1.2" />
<text x="530.30" y="160.00" font-size="11" text-anchor="middle" font-weight="normal" fill="#111" >300</text>
<line x1="608.90" y1="147.00" x2="608.90" y2="149.20" stroke="#666" stroke-width="1.2" />
<text x="608.90" y="160.00" font-size="11" text-anchor="middle" font-weight="normal" fill="#111" >350</text>
<line x1="687.50" y1="147.00" x2="687.50" y2="149.20" stroke="#666" stroke-width="1.2" />
<text x="687.50" y="160.00" font-size="11" text-anchor="middle" font-weight="normal" fill="#111" >400</text>
<line x1="569.60" y1="147.00" x2="569.60" y2="148.50" stroke="#666" stroke-width="1.2" />
<line x1="648.20" y1="147.00" x2="648.20" y2="148.50" stroke="#666" stroke-width="1.2" />
<text x="599.20" y="172.50" font-size="11" text-anchor="middle" font-weight="normal" fill="#111"  textLength="85.30" lengthAdjust="spacingAndGlyphs">Wavelength (nm)</text>
<text x="484.60" y="77.50" font-size="11" text-anchor="middle" font-weight="normal" fill="#111" transform="rotate(-90 484.6 77.5)">Absorbance</text>
<text x="471.00" y="12.30" font-size="13.2" text-anchor="start" font-weight="bold" fill="#111" style="stroke-width:0">c</text>
<defs><linearGradient id="g646" x1="0" y1="1" x2="0" y2="0"><stop offset="0" stop-color="#1f6fd0"/><stop offset="0.22" stop-color="#1a8a6a"/><stop offset="0.42" stop-color="#4a9a30"/><stop offset="0.58" stop-color="#e8c040"/><stop offset="0.75" stop-color="#f89030"/><stop offset="1" stop-color="#ee1c10"/></linearGradient></defs>
<rect x="646.10" y="33.30" width="1.6" height="39.10" fill="url(#g646)"/>
<polygon points="646.90,29.30 644.30,34.30 649.50,34.30" fill="#ee1c10"/>
<text x="649.20" y="25.30" font-size="11" text-anchor="middle" font-weight="normal" fill="#111" >30 s</text>
<text x="648.50" y="81.80" font-size="11" text-anchor="middle" font-weight="normal" fill="#111" >0 s</text>
<line x1="43.20" y1="197.40" x2="215.30" y2="197.40" stroke="#888" stroke-width="1.2" />
<line x1="43.20" y1="197.40" x2="43.20" y2="335.60" stroke="#888" stroke-width="1.2" />
<line x1="215.30" y1="197.40" x2="215.30" y2="335.60" stroke="#888" stroke-width="1.2" />
<line x1="43.20" y1="335.60" x2="215.30" y2="335.60" stroke="#8e8eb0" stroke-width="1.2" />
<line x1="40.70" y1="334.50" x2="43.20" y2="334.50" stroke="#888" stroke-width="1.2" />
<text x="36.80" y="336.90" font-size="11" text-anchor="end" font-weight="normal" fill="#111" >0.00</text>
<line x1="40.70" y1="303.40" x2="43.20" y2="303.40" stroke="#888" stroke-width="1.2" />
<text x="36.80" y="306.10" font-size="11" text-anchor="end" font-weight="normal" fill="#111" >0.05</text>
<line x1="40.70" y1="272.30" x2="43.20" y2="272.30" stroke="#888" stroke-width="1.2" />
<text x="36.80" y="275.50" font-size="11" text-anchor="end" font-weight="normal" fill="#111" >0.10</text>
<line x1="40.70" y1="241.20" x2="43.20" y2="241.20" stroke="#888" stroke-width="1.2" />
<text x="36.80" y="243.80" font-size="11" text-anchor="end" font-weight="normal" fill="#111" >0.15</text>
<line x1="40.70" y1="210.10" x2="43.20" y2="210.10" stroke="#888" stroke-width="1.2" />
<text x="36.80" y="212.20" font-size="11" text-anchor="end" font-weight="normal" fill="#111" >0.20</text>
<line x1="41.70" y1="318.95" x2="43.20" y2="318.95" stroke="#888" stroke-width="1.2" />
<line x1="41.70" y1="287.85" x2="43.20" y2="287.85" stroke="#888" stroke-width="1.2" />
<line x1="41.70" y1="256.75" x2="43.20" y2="256.75" stroke="#888" stroke-width="1.2" />
<line x1="41.70" y1="225.65" x2="43.20" y2="225.65" stroke="#888" stroke-width="1.2" />
<line x1="44.90" y1="335.60" x2="44.90" y2="338.10" stroke="#888" stroke-width="1.2" />
<text x="44.90" y="348.30" font-size="11" text-anchor="middle" font-weight="normal" fill="#111" >0</text>
<line x1="101.40" y1="335.60" x2="101.40" y2="338.10" stroke="#888" stroke-width="1.2" />
<text x="101.40" y="348.30" font-size="11" text-anchor="middle" font-weight="normal" fill="#111" >10</text>
<line x1="157.90" y1="335.60" x2="157.90" y2="338.10" stroke="#888" stroke-width="1.2" />
<text x="157.90" y="348.30" font-size="11" text-anchor="middle" font-weight="normal" fill="#111" >20</text>
<line x1="214.40" y1="335.60" x2="214.40" y2="338.10" stroke="#888" stroke-width="1.2" />
<text x="214.40" y="348.30" font-size="11" text-anchor="middle" font-weight="normal" fill="#111" >30</text>
<line x1="73.15" y1="335.60" x2="73.15" y2="337.10" stroke="#888" stroke-width="1.2" />
<line x1="129.65" y1="335.60" x2="129.65" y2="337.10" stroke="#888" stroke-width="1.2" />
<line x1="186.15" y1="335.60" x2="186.15" y2="337.10" stroke="#888" stroke-width="1.2" />
<text x="130.20" y="360.80" font-size="11" text-anchor="middle" font-weight="normal" fill="#111"  textLength="41.30" lengthAdjust="spacingAndGlyphs">Time (s)</text>
<text x="12.30" y="267.60" font-size="11" text-anchor="middle" font-weight="normal" fill="#111" transform="rotate(-90 12.3 267.6)">Absorbance</text>
<text x="0.80" y="200.40" font-size="13.5" text-anchor="start" font-weight="bold" fill="#111" style="stroke-width:0">d</text>
<path d="M44.9 324.7L50.5 318.5L56.2 312.7L61.9 304.7L67.5 295.9L73.2 290.1L78.8 283.6L84.5 277.4L90.1 271.4L95.8 265.7L101.4 260.5L118.3 247.4L141.0 232.5L146.6 230.2L152.2 227.5L157.9 224.4L163.6 222.5L169.2 220.1L180.5 216.3L186.2 215.1L191.8 213.4L197.5 212.6L203.1 211.3L208.8 210.3L214.4 208.4" fill="none" stroke="#f02828" stroke-width="1.1"/>
<circle cx="44.90" cy="324.67" r="2.20" fill="#fff" stroke="#f02828" stroke-width="1.1"/>
<circle cx="50.55" cy="318.51" r="2.20" fill="#fff" stroke="#f02828" stroke-width="1.1"/>
<circle cx="56.20" cy="312.73" r="2.20" fill="#fff" stroke="#f02828" stroke-width="1.1"/>
<circle cx="61.85" cy="304.71" r="2.20" fill="#fff" stroke="#f02828" stroke-width="1.1"/>
<circle cx="67.50" cy="295.94" r="2.20" fill="#fff" stroke="#f02828" stroke-width="1.1"/>
<circle cx="73.15" cy="290.09" r="2.20" fill="#fff" stroke="#f02828" stroke-width="1.1"/>
<circle cx="78.80" cy="283.62" r="2.20" fill="#fff" stroke="#f02828" stroke-width="1.1"/>
<circle cx="84.45" cy="277.44" r="2.20" fill="#fff" stroke="#f02828" stroke-width="1.1"/>
<circle cx="90.10" cy="271.38" r="2.20" fill="#fff" stroke="#f02828" stroke-width="1.1"/>
<circle cx="95.75" cy="265.66" r="2.20" fill="#fff" stroke="#f02828" stroke-width="1.1"/>
<circle cx="101.40" cy="260.48" r="2.20" fill="#fff" stroke="#f02828" stroke-width="1.1"/>
<circle cx="107.05" cy="256.13" r="2.20" fill="#fff" stroke="#f02828" stroke-width="1.1"/>
<circle cx="112.70" cy="251.77" r="2.20" fill="#fff" stroke="#f02828" stroke-width="1.1"/>
<circle cx="118.35" cy="247.42" r="2.20" fill="#fff" stroke="#f02828" stroke-width="1.1"/>
<circle cx="124.00" cy="243.69" r="2.20" fill="#fff" stroke="#f02828" stroke-width="1.1"/>
<circle cx="129.65" cy="239.96" r="2.20" fill="#fff" stroke="#f02828" stroke-width="1.1"/>
<circle cx="135.30" cy="236.22" r="2.20" fill="#fff" stroke="#f02828" stroke-width="1.1"/>
<circle cx="140.95" cy="232.49" r="2.20" fill="#fff" stroke="#f02828" stroke-width="1.1"/>
<circle cx="146.60" cy="230.19" r="2.20" fill="#fff" stroke="#f02828" stroke-width="1.1"/>
<circle cx="152.25" cy="227.52" r="2.20" fill="#fff" stroke="#f02828" stroke-width="1.1"/>
<circle cx="157.90" cy="224.41" r="2.20" fill="#fff" stroke="#f02828" stroke-width="1.1"/>
<circle cx="163.55" cy="222.54" r="2.20" fill="#fff" stroke="#f02828" stroke-width="1.1"/>
<circle cx="169.20" cy="220.05" r="2.20" fill="#fff" stroke="#f02828" stroke-width="1.1"/>
<circle cx="174.85" cy="218.19" r="2.20" fill="#fff" stroke="#f02828" stroke-width="1.1"/>
<circle cx="180.50" cy="216.32" r="2.20" fill="#fff" stroke="#f02828" stroke-width="1.1"/>
<circle cx="186.15" cy="215.08" r="2.20" fill="#fff" stroke="#f02828" stroke-width="1.1"/>
<circle cx="191.80" cy="213.40" r="2.20" fill="#fff" stroke="#f02828" stroke-width="1.1"/>
<circle cx="197.45" cy="212.59" r="2.20" fill="#fff" stroke="#f02828" stroke-width="1.1"/>
<circle cx="203.10" cy="211.34" r="2.20" fill="#fff" stroke="#f02828" stroke-width="1.1"/>
<circle cx="208.75" cy="210.29" r="2.20" fill="#fff" stroke="#f02828" stroke-width="1.1"/>
<circle cx="214.40" cy="208.42" r="2.20" fill="#fff" stroke="#f02828" stroke-width="1.1"/>
<path d="M44.9 327.4L50.5 322.0L56.2 318.1L61.9 314.0L67.5 308.7L73.2 305.7L78.8 302.8L84.5 299.3L90.1 293.7L95.8 290.7L101.4 286.3L107.1 280.7L112.7 274.9L118.3 269.8L124.0 266.3L129.7 264.8L135.3 263.0L141.0 257.4L146.6 254.3L152.2 251.8L157.9 249.3L163.6 246.8L169.2 243.4L174.9 241.4L186.2 241.4L191.8 240.2L197.5 238.9L203.1 237.7L208.8 236.2L214.4 234.6" fill="none" stroke="#2ecc2e" stroke-width="1.1"/>
<circle cx="44.90" cy="327.41" r="2.20" fill="#fff" stroke="#2ecc2e" stroke-width="1.1"/>
<circle cx="50.55" cy="322.00" r="2.20" fill="#fff" stroke="#2ecc2e" stroke-width="1.1"/>
<circle cx="56.20" cy="318.08" r="2.20" fill="#fff" stroke="#2ecc2e" stroke-width="1.1"/>
<circle cx="61.85" cy="313.97" r="2.20" fill="#fff" stroke="#2ecc2e" stroke-width="1.1"/>
<circle cx="67.50" cy="308.69" r="2.20" fill="#fff" stroke="#2ecc2e" stroke-width="1.1"/>
<circle cx="73.15" cy="305.70" r="2.20" fill="#fff" stroke="#2ecc2e" stroke-width="1.1"/>
<circle cx="78.80" cy="302.78" r="2.20" fill="#fff" stroke="#2ecc2e" stroke-width="1.1"/>
<circle cx="84.45" cy="299.29" r="2.20" fill="#fff" stroke="#2ecc2e" stroke-width="1.1"/>
<circle cx="90.10" cy="293.70" r="2.20" fill="#fff" stroke="#2ecc2e" stroke-width="1.1"/>
<circle cx="95.75" cy="290.71" r="2.20" fill="#fff" stroke="#2ecc2e" stroke-width="1.1"/>
<circle cx="101.40" cy="286.30" r="2.20" fill="#fff" stroke="#2ecc2e" stroke-width="1.1"/>
<circle cx="107.05" cy="280.72" r="2.20" fill="#fff" stroke="#2ecc2e" stroke-width="1.1"/>
<circle cx="112.70" cy="274.91" r="2.20" fill="#fff" stroke="#2ecc2e" stroke-width="1.1"/>
<circle cx="118.35" cy="269.80" r="2.20" fill="#fff" stroke="#2ecc2e" stroke-width="1.1"/>
<circle cx="124.00" cy="266.33" r="2.20" fill="#fff" stroke="#2ecc2e" stroke-width="1.1"/>
<circle cx="129.65" cy="264.75" r="2.20" fill="#fff" stroke="#2ecc2e" stroke-width="1.1"/>
<circle cx="135.30" cy="262.97" r="2.20" fill="#fff" stroke="#2ecc2e" stroke-width="1.1"/>
<circle cx="140.95" cy="257.37" r="2.20" fill="#fff" stroke="#2ecc2e" stroke-width="1.1"/>
<circle cx="146.60" cy="254.26" r="2.20" fill="#fff" stroke="#2ecc2e" stroke-width="1.1"/>
<circle cx="152.25" cy="251.77" r="2.20" fill="#fff" stroke="#2ecc2e" stroke-width="1.1"/>
<circle cx="157.90" cy="249.31" r="2.20" fill="#fff" stroke="#2ecc2e" stroke-width="1.1"/>
<circle cx="163.55" cy="246.80" r="2.20" fill="#fff" stroke="#2ecc2e" stroke-width="1.1"/>
<circle cx="169.20" cy="243.44" r="2.20" fill="#fff" stroke="#2ecc2e" stroke-width="1.1"/>
<circle cx="174.85" cy="241.39" r="2.20" fill="#fff" stroke="#2ecc2e" stroke-width="1.1"/>
<circle cx="180.50" cy="241.39" r="2.20" fill="#fff" stroke="#2ecc2e" stroke-width="1.1"/>
<circle cx="186.15" cy="241.39" r="2.20" fill="#fff" stroke="#2ecc2e" stroke-width="1.1"/>
<circle cx="191.80" cy="240.20" r="2.20" fill="#fff" stroke="#2ecc2e" stroke-width="1.1"/>
<circle cx="197.45" cy="238.90" r="2.20" fill="#fff" stroke="#2ecc2e" stroke-width="1.1"/>
<circle cx="203.10" cy="237.72" r="2.20" fill="#fff" stroke="#2ecc2e" stroke-width="1.1"/>
<circle cx="208.75" cy="236.22" r="2.20" fill="#fff" stroke="#2ecc2e" stroke-width="1.1"/>
<circle cx="214.40" cy="234.61" r="2.20" fill="#fff" stroke="#2ecc2e" stroke-width="1.1"/>
<path d="M44.9 330.1L50.5 324.2L56.2 320.3L61.9 316.7L67.5 310.0L73.2 306.7L84.5 297.6L90.1 291.6L95.8 285.6L101.4 282.1L107.1 279.1L112.7 275.7L118.3 272.3L124.0 268.7L129.7 265.5L135.3 263.0L141.0 260.5L146.6 257.1L152.2 253.9L157.9 251.7L163.6 249.5L169.2 246.0L174.9 242.4L180.5 239.9L186.2 237.7L191.8 235.9L197.5 234.1L203.1 232.0L208.8 227.7L214.4 227.7" fill="none" stroke="#3b82d4" stroke-width="1.1"/>
<circle cx="44.90" cy="330.15" r="2.20" fill="#fff" stroke="#3b82d4" stroke-width="1.1"/>
<circle cx="50.55" cy="324.17" r="2.20" fill="#fff" stroke="#3b82d4" stroke-width="1.1"/>
<circle cx="56.20" cy="320.32" r="2.20" fill="#fff" stroke="#3b82d4" stroke-width="1.1"/>
<circle cx="61.85" cy="316.71" r="2.20" fill="#fff" stroke="#3b82d4" stroke-width="1.1"/>
<circle cx="67.50" cy="309.99" r="2.20" fill="#fff" stroke="#3b82d4" stroke-width="1.1"/>
<circle cx="73.15" cy="306.70" r="2.20" fill="#fff" stroke="#3b82d4" stroke-width="1.1"/>
<circle cx="78.80" cy="302.16" r="2.20" fill="#fff" stroke="#3b82d4" stroke-width="1.1"/>
<circle cx="84.45" cy="297.62" r="2.20" fill="#fff" stroke="#3b82d4" stroke-width="1.1"/>
<circle cx="90.10" cy="291.58" r="2.20" fill="#fff" stroke="#3b82d4" stroke-width="1.1"/>
<circle cx="95.75" cy="285.61" r="2.20" fill="#fff" stroke="#3b82d4" stroke-width="1.1"/>
<circle cx="101.40" cy="282.12" r="2.20" fill="#fff" stroke="#3b82d4" stroke-width="1.1"/>
<circle cx="107.05" cy="279.14" r="2.20" fill="#fff" stroke="#3b82d4" stroke-width="1.1"/>
<circle cx="112.70" cy="275.74" r="2.20" fill="#fff" stroke="#3b82d4" stroke-width="1.1"/>
<circle cx="118.35" cy="272.30" r="2.20" fill="#fff" stroke="#3b82d4" stroke-width="1.1"/>
<circle cx="124.00" cy="268.74" r="2.20" fill="#fff" stroke="#3b82d4" stroke-width="1.1"/>
<circle cx="129.65" cy="265.46" r="2.20" fill="#fff" stroke="#3b82d4" stroke-width="1.1"/>
<circle cx="135.30" cy="262.96" r="2.20" fill="#fff" stroke="#3b82d4" stroke-width="1.1"/>
<circle cx="140.95" cy="260.48" r="2.20" fill="#fff" stroke="#3b82d4" stroke-width="1.1"/>
<circle cx="146.60" cy="257.14" r="2.20" fill="#fff" stroke="#3b82d4" stroke-width="1.1"/>
<circle cx="152.25" cy="253.89" r="2.20" fill="#fff" stroke="#3b82d4" stroke-width="1.1"/>
<circle cx="157.90" cy="251.70" r="2.20" fill="#fff" stroke="#3b82d4" stroke-width="1.1"/>
<circle cx="163.55" cy="249.47" r="2.20" fill="#fff" stroke="#3b82d4" stroke-width="1.1"/>
<circle cx="169.20" cy="245.99" r="2.20" fill="#fff" stroke="#3b82d4" stroke-width="1.1"/>
<circle cx="174.85" cy="242.44" r="2.20" fill="#fff" stroke="#3b82d4" stroke-width="1.1"/>
<circle cx="180.50" cy="239.89" r="2.20" fill="#fff" stroke="#3b82d4" stroke-width="1.1"/>
<circle cx="186.15" cy="237.72" r="2.20" fill="#fff" stroke="#3b82d4" stroke-width="1.1"/>
<circle cx="191.80" cy="235.89" r="2.20" fill="#fff" stroke="#3b82d4" stroke-width="1.1"/>
<circle cx="197.45" cy="234.11" r="2.20" fill="#fff" stroke="#3b82d4" stroke-width="1.1"/>
<circle cx="203.10" cy="231.99" r="2.20" fill="#fff" stroke="#3b82d4" stroke-width="1.1"/>
<circle cx="208.75" cy="227.70" r="2.20" fill="#fff" stroke="#3b82d4" stroke-width="1.1"/>
<circle cx="214.40" cy="227.70" r="2.20" fill="#fff" stroke="#3b82d4" stroke-width="1.1"/>
<text x="154.50" y="283.50" font-size="11" text-anchor="start" font-weight="normal" fill="#1a1a2a" >CzF</text>
<line x1="184.80" y1="280.90" x2="202.40" y2="280.90" stroke="#f02828" stroke-width="0.8" opacity="0.6"/>
<circle cx="194.10" cy="280.90" r="2.10" fill="#fff" stroke="#f02828" stroke-width="0.9"/>
<text x="154.50" y="294.90" font-size="11" text-anchor="start" font-weight="normal" fill="#1a1a2a" >CzCl</text>
<line x1="184.80" y1="291.90" x2="202.40" y2="291.90" stroke="#2ecc2e" stroke-width="0.8" opacity="0.6"/>
<circle cx="194.10" cy="291.90" r="2.10" fill="#fff" stroke="#2ecc2e" stroke-width="0.9"/>
<text x="154.50" y="307.30" font-size="11" text-anchor="start" font-weight="normal" fill="#1a1a2a" >CzBr</text>
<line x1="184.80" y1="304.50" x2="202.40" y2="304.50" stroke="#3b82d4" stroke-width="0.8" opacity="0.6"/>
<circle cx="194.10" cy="304.50" r="2.10" fill="#fff" stroke="#3b82d4" stroke-width="0.9"/>
<rect x="250.50" y="197.30" width="198.90" height="138.10" fill="none" stroke="#888" stroke-width="1.2"/>
<line x1="256.30" y1="335.40" x2="256.30" y2="337.90" stroke="#888" stroke-width="1.2" />
<text x="256.30" y="348.00" font-size="11" text-anchor="middle" font-weight="normal" fill="#111" >9.0</text>
<line x1="294.45" y1="335.40" x2="294.45" y2="337.90" stroke="#888" stroke-width="1.2" />
<text x="294.45" y="348.00" font-size="11" text-anchor="middle" font-weight="normal" fill="#111" >8.5</text>
<line x1="332.60" y1="335.40" x2="332.60" y2="337.90" stroke="#888" stroke-width="1.2" />
<text x="332.60" y="348.00" font-size="11" text-anchor="middle" font-weight="normal" fill="#111" >8.0</text>
<line x1="370.75" y1="335.40" x2="370.75" y2="337.90" stroke="#888" stroke-width="1.2" />
<text x="370.75" y="348.00" font-size="11" text-anchor="middle" font-weight="normal" fill="#111" >7.5</text>
<line x1="408.90" y1="335.40" x2="408.90" y2="337.90" stroke="#888" stroke-width="1.2" />
<text x="408.90" y="348.00" font-size="11" text-anchor="middle" font-weight="normal" fill="#111" >7.0</text>
<line x1="447.05" y1="335.40" x2="447.05" y2="337.90" stroke="#888" stroke-width="1.2" />
<text x="447.05" y="348.00" font-size="11" text-anchor="middle" font-weight="normal" fill="#111" >6.5</text>
<line x1="275.38" y1="335.40" x2="275.38" y2="336.90" stroke="#888" stroke-width="1.2" />
<line x1="313.52" y1="335.40" x2="313.52" y2="336.90" stroke="#888" stroke-width="1.2" />
<line x1="351.68" y1="335.40" x2="351.68" y2="336.90" stroke="#888" stroke-width="1.2" />
<line x1="389.83" y1="335.40" x2="389.83" y2="336.90" stroke="#888" stroke-width="1.2" />
<line x1="427.98" y1="335.40" x2="427.98" y2="336.90" stroke="#888" stroke-width="1.2" />
<text x="235.00" y="200.60" font-size="14.5" text-anchor="start" font-weight="bold" fill="#111" style="stroke-width:0">e</text>
<path d="M251.0 233.5L270.2 233.4L270.9 233.3L271.8 232.4L272.1 232.3L272.8 232.3L273.5 233.1L273.9 233.3L276.6 233.5L318.5 233.4L324.4 233.3L327.2 232.9L328.0 232.7L328.2 232.3L328.9 229.5L329.2 229.0L329.8 228.8L330.1 229.0L330.6 231.0L330.9 231.6L331.3 231.6L331.8 230.9L332.2 227.6L332.9 215.1L333.0 214.3L333.2 214.3L333.3 214.4L333.6 214.3L333.8 214.6L334.6 228.6L334.9 230.8L335.3 231.7L336.4 232.4L337.3 232.6L337.9 232.5L338.3 232.1L339.0 230.2L339.1 230.0L339.7 230.0L340.0 230.2L340.8 232.4L341.3 232.7L342.2 232.6L342.5 232.4L342.8 231.8L343.5 228.2L343.8 227.7L344.2 227.7L344.5 227.9L344.6 228.4L345.2 231.5L345.5 232.2L345.8 232.5L346.2 232.6L347.9 232.6L348.9 232.2L349.6 231.7L349.9 231.3L350.2 230.5L350.6 225.7L351.2 213.9L351.3 212.6L351.4 212.3L352.0 212.4L352.1 213.3L353.0 229.0L353.3 230.8L353.6 231.5L353.8 231.8L355.1 232.5L357.0 232.8L358.8 232.6L359.5 232.3L359.9 232.0L360.3 230.4L361.1 222.7L361.3 221.7L361.9 221.8L362.0 222.2L362.9 230.7L363.2 231.8L363.5 232.2L364.0 232.4L364.9 232.6L365.7 232.6L366.1 232.4L366.6 231.4L367.3 228.2L367.4 228.1L368.0 228.1L368.3 228.6L369.0 231.9L369.4 232.5L370.2 232.6L370.8 232.4L371.1 231.9L371.8 229.6L371.9 229.4L372.5 229.3L372.8 229.6L373.6 232.0L373.9 232.2L374.5 232.2L375.2 231.8L375.5 231.4L376.3 226.6L376.6 226.0L377.2 225.6L377.3 225.7L378.0 228.6L378.2 228.7L378.3 228.3L378.7 222.6L379.4 199.6L379.6 198.2L379.7 198.1L379.9 198.3L380.2 198.2L380.4 201.0L381.0 220.8L381.4 228.6L381.7 230.0L382.0 230.7L382.7 231.6L383.5 232.2L384.7 232.6L386.0 232.8L387.4 232.8L388.2 232.6L388.6 231.7L389.3 228.1L389.6 227.9L390.2 227.9L390.3 228.3L391.2 232.3L391.6 232.8L392.5 233.0L394.3 233.2L397.3 233.3L409.3 233.4L413.7 233.2L415.0 233.0L415.9 232.7L416.9 232.0L417.4 231.0L417.6 228.6L418.3 217.3L418.5 216.6L419.1 216.5L419.2 216.7L419.3 217.7L420.2 230.4L420.6 231.9L421.3 232.5L422.2 232.8L423.2 233.1L426.5 233.3L448.9 233.5" fill="none" stroke="#e8262a" stroke-width="0.9"/>
<text x="253.20" y="220.90" font-size="8.8" text-anchor="start" font-weight="normal" fill="#1e1e1e"  textLength="60.60" lengthAdjust="spacingAndGlyphs">UV irrad. 15 min</text>
<path d="M251.0 264.0L270.2 263.9L270.9 263.8L271.8 263.1L272.1 263.0L272.8 263.0L273.5 263.7L273.9 263.9L277.2 264.0L318.8 263.9L324.6 263.7L327.4 263.4L328.0 263.1L328.2 262.8L328.9 260.7L329.2 260.2L329.8 259.9L330.1 259.9L330.8 261.2L331.1 260.7L331.5 256.4L332.1 244.3L332.3 242.4L332.6 242.5L332.9 242.5L333.0 243.2L333.8 257.3L334.0 260.5L334.5 261.9L335.5 262.8L336.7 263.2L337.9 263.1L338.3 262.7L339.0 260.7L339.1 260.6L339.7 260.6L340.0 260.8L340.8 263.0L341.4 263.3L342.4 263.2L342.8 262.6L343.5 260.0L343.8 259.7L344.4 259.7L344.5 259.8L345.2 262.5L345.5 263.0L345.8 263.2L346.8 263.3L348.0 263.2L349.0 262.9L349.7 262.4L350.2 261.5L350.4 259.5L351.2 248.1L351.4 246.8L352.0 246.9L352.1 247.6L353.0 260.3L353.3 261.8L353.8 262.6L355.3 263.2L357.2 263.3L358.9 263.0L359.6 262.7L359.9 262.4L360.3 260.6L361.1 251.9L361.3 250.8L361.9 250.8L362.0 251.3L362.9 261.0L363.2 262.2L363.5 262.6L364.0 262.9L364.7 263.1L365.6 263.2L366.1 263.1L366.6 262.6L367.3 260.6L368.0 260.6L368.3 260.9L369.0 262.9L369.4 263.2L370.2 263.3L370.8 263.1L371.1 262.8L371.8 261.1L372.5 260.9L372.8 261.1L373.6 262.8L373.9 262.9L374.4 262.9L375.1 262.6L375.5 262.0L376.3 257.3L376.6 256.7L377.2 256.3L377.3 256.4L378.0 259.5L378.2 259.6L378.3 259.4L378.7 254.3L379.4 234.2L379.6 233.0L379.7 232.9L379.9 233.1L380.2 233.0L380.4 235.5L381.0 252.8L381.4 259.7L381.7 260.9L382.0 261.5L382.7 262.3L383.5 262.8L384.7 263.2L386.1 263.3L387.5 263.3L388.2 263.0L388.6 262.0L389.3 258.1L389.6 257.8L390.2 257.9L390.3 258.2L391.2 262.7L391.6 263.3L392.5 263.5L394.3 263.7L397.3 263.8L409.3 263.9L413.7 263.6L415.0 263.4L415.9 263.1L416.9 262.4L417.4 261.2L417.6 258.7L418.3 246.3L418.5 245.5L418.6 245.4L418.8 245.5L419.1 245.4L419.2 245.7L419.3 246.7L420.2 260.6L420.6 262.2L421.3 262.9L422.2 263.3L423.2 263.5L426.5 263.8L448.9 264.0" fill="none" stroke="#f39a32" stroke-width="0.9"/>
<text x="253.60" y="255.00" font-size="8.8" text-anchor="start" font-weight="normal" fill="#1e1e1e"  textLength="60.20" lengthAdjust="spacingAndGlyphs">UV irrad. 10 min</text>
<path d="M251.0 294.6L270.2 294.5L270.9 294.4L271.8 293.7L272.1 293.6L272.8 293.6L273.5 294.3L273.9 294.5L277.3 294.6L318.8 294.5L324.6 294.3L327.4 294.0L328.0 293.7L328.2 293.4L328.9 291.2L329.2 290.8L329.8 290.5L330.1 290.5L330.8 291.8L331.1 291.3L331.5 286.8L332.1 274.3L332.3 272.4L332.6 272.5L332.9 272.5L333.0 273.2L333.8 287.7L334.0 291.0L334.5 292.5L334.9 293.0L335.5 293.4L336.6 293.7L337.9 293.8L338.3 293.4L339.0 291.8L339.1 291.7L339.7 291.7L340.0 291.9L340.8 293.7L341.3 293.9L342.2 293.9L342.5 293.8L342.8 293.5L343.5 291.5L343.8 291.3L344.4 291.3L344.5 291.4L345.2 293.3L345.5 293.8L345.8 293.9L346.9 294.0L348.0 293.8L349.0 293.5L349.7 292.9L350.2 292.0L350.4 289.9L351.2 277.8L351.4 276.4L352.0 276.5L352.1 277.3L353.0 290.8L353.3 292.3L353.8 293.1L354.5 293.5L355.3 293.8L357.1 294.0L358.9 293.7L359.6 293.4L359.9 293.1L360.3 291.5L361.1 283.4L361.3 282.4L361.8 282.4L361.9 282.4L362.0 282.9L362.2 283.9L362.9 291.8L363.2 292.9L363.5 293.3L364.7 293.8L366.1 293.9L366.6 293.5L367.3 292.3L368.0 292.3L368.3 292.5L369.0 293.8L369.4 294.1L371.7 294.1L373.8 293.9L375.1 293.4L375.5 292.8L376.3 288.0L376.6 287.4L377.2 287.1L377.3 287.2L378.0 290.4L378.2 290.5L378.3 290.3L378.7 285.8L379.4 267.4L379.6 266.4L379.7 266.3L379.9 266.4L380.2 266.3L380.4 268.6L381.0 284.4L381.4 290.6L381.7 291.8L382.0 292.3L382.7 293.0L383.5 293.5L384.7 293.8L386.1 294.0L387.5 293.9L388.2 293.7L388.6 292.7L389.3 288.7L389.6 288.4L390.2 288.5L390.3 288.8L391.2 293.3L391.6 293.9L392.5 294.1L394.3 294.4L397.4 294.5L409.9 294.4L414.0 294.2L415.2 293.9L416.1 293.6L416.9 292.9L417.4 291.8L417.6 289.2L418.3 276.5L418.5 275.7L418.6 275.6L418.8 275.7L419.1 275.6L419.2 275.9L419.3 277.0L420.2 291.1L420.6 292.8L421.3 293.5L422.2 293.9L423.2 294.1L426.5 294.4L448.9 294.6" fill="none" stroke="#2a8a48" stroke-width="0.9"/>
<text x="253.40" y="284.10" font-size="8.8" text-anchor="start" font-weight="normal" fill="#1e1e1e"  textLength="55.50" lengthAdjust="spacingAndGlyphs">UV irrad. 5 min</text>
<path d="M251.0 325.2L317.2 325.1L324.3 325.0L327.5 324.6L328.5 324.2L329.2 323.8L329.7 323.3L329.9 322.5L330.4 318.1L330.9 306.8L331.2 305.2L331.8 305.2L331.9 306.0L332.6 319.2L332.9 322.1L333.3 323.4L333.8 323.8L334.5 324.3L335.7 324.6L337.6 324.9L340.7 325.0L343.9 324.9L345.6 324.7L346.9 324.5L347.9 324.1L348.6 323.5L349.0 322.5L349.3 320.2L350.0 307.4L350.2 306.4L350.3 306.1L350.6 306.2L350.7 306.1L350.9 306.2L351.0 307.1L351.9 321.3L352.1 322.9L352.7 323.7L353.4 324.2L354.1 324.4L356.1 324.7L358.4 324.5L359.2 324.3L359.8 323.9L360.1 323.5L360.3 322.1L361.2 313.3L361.3 313.0L361.8 313.1L361.9 313.1L362.0 313.5L362.2 314.6L362.9 322.5L363.2 323.6L363.5 324.0L364.7 324.5L366.9 324.8L370.5 324.8L373.2 324.5L374.4 324.2L375.2 323.7L375.6 323.2L375.9 322.3L376.8 315.0L376.9 314.4L377.5 313.4L377.9 311.6L378.6 299.9L378.7 298.5L378.9 298.1L379.2 298.5L379.4 298.6L379.6 299.5L380.3 316.7L380.7 321.6L381.0 322.6L381.4 323.2L382.1 323.8L383.0 324.2L384.3 324.5L386.0 324.6L387.5 324.5L388.2 324.2L388.6 323.2L389.3 319.0L389.6 318.6L390.2 318.7L390.3 319.1L391.2 323.9L391.6 324.5L392.5 324.7L394.3 325.0L397.3 325.1L409.4 325.1L413.7 324.8L415.0 324.6L415.9 324.2L416.9 323.5L417.4 322.2L417.6 319.5L418.3 306.2L418.5 305.3L418.6 305.2L418.8 305.3L419.1 305.2L419.2 305.5L419.3 306.6L420.2 321.5L420.6 323.3L421.3 324.0L422.2 324.4L423.2 324.7L426.5 325.0L448.9 325.2" fill="none" stroke="#2b2c8e" stroke-width="0.9"/>
<text x="254.50" y="317.80" font-size="8.8" text-anchor="start" font-weight="normal" fill="#1e1e1e"  textLength="59.40" lengthAdjust="spacingAndGlyphs">Before UV irrad.</text>
<line x1="512.20" y1="196.70" x2="689.70" y2="196.70" stroke="#888" stroke-width="1.2" />
<line x1="512.20" y1="196.70" x2="512.20" y2="334.60" stroke="#888" stroke-width="1.2" />
<line x1="689.70" y1="196.70" x2="689.70" y2="334.60" stroke="#888" stroke-width="1.2" />
<line x1="512.20" y1="334.60" x2="689.70" y2="334.60" stroke="#8e8eb0" stroke-width="1.2" />
<line x1="509.70" y1="334.50" x2="512.20" y2="334.50" stroke="#888" stroke-width="1.2" />
<text x="507.60" y="337.80" font-size="11" text-anchor="end" font-weight="normal" fill="#111" >0.0</text>
<line x1="509.70" y1="300.00" x2="512.20" y2="300.00" stroke="#888" stroke-width="1.2" />
<text x="507.60" y="303.70" font-size="11" text-anchor="end" font-weight="normal" fill="#111" >0.5</text>
<line x1="509.70" y1="265.50" x2="512.20" y2="265.50" stroke="#888" stroke-width="1.2" />
<text x="507.60" y="269.00" font-size="11" text-anchor="end" font-weight="normal" fill="#111" >1.0</text>
<line x1="509.70" y1="231.00" x2="512.20" y2="231.00" stroke="#888" stroke-width="1.2" />
<text x="507.60" y="234.60" font-size="11" text-anchor="end" font-weight="normal" fill="#111" >1.5</text>
<line x1="509.70" y1="196.50" x2="512.20" y2="196.50" stroke="#888" stroke-width="1.2" />
<text x="507.60" y="200.00" font-size="11" text-anchor="end" font-weight="normal" fill="#111" >2.0</text>
<line x1="510.70" y1="317.25" x2="512.20" y2="317.25" stroke="#888" stroke-width="1.2" />
<line x1="510.70" y1="282.75" x2="512.20" y2="282.75" stroke="#888" stroke-width="1.2" />
<line x1="510.70" y1="248.25" x2="512.20" y2="248.25" stroke="#888" stroke-width="1.2" />
<line x1="510.70" y1="213.75" x2="512.20" y2="213.75" stroke="#888" stroke-width="1.2" />
<line x1="512.20" y1="334.60" x2="512.20" y2="337.10" stroke="#888" stroke-width="1.2" />
<text x="511.70" y="349.00" font-size="11" text-anchor="middle" font-weight="normal" fill="#111" >300</text>
<line x1="594.20" y1="334.60" x2="594.20" y2="337.10" stroke="#888" stroke-width="1.2" />
<text x="593.70" y="349.00" font-size="11" text-anchor="middle" font-weight="normal" fill="#111" >350</text>
<line x1="689.70" y1="334.60" x2="689.70" y2="337.10" stroke="#888" stroke-width="1.2" />
<text x="689.70" y="349.00" font-size="11" text-anchor="middle" font-weight="normal" fill="#111" >400</text>
<line x1="546.50" y1="334.60" x2="546.50" y2="336.10" stroke="#888" stroke-width="1.2" />
<line x1="642.10" y1="334.60" x2="642.10" y2="336.10" stroke="#888" stroke-width="1.2" />
<text x="601.40" y="360.60" font-size="10.6" text-anchor="middle" font-weight="normal" fill="#111" >Wavelength (nm)</text>
<text x="484.20" y="267.60" font-size="11" text-anchor="middle" font-weight="normal" fill="#111" transform="rotate(-90 484.2 267.6)">Absorbance</text>
<text x="470.80" y="200.30" font-size="13.5" text-anchor="start" font-weight="bold" fill="#111" style="stroke-width:0">f</text>
<path d="M512.3 306.9L516.6 307.7L519.4 308.7L521.5 309.8L524.7 312.0L526.9 313.3L529.3 314.5L532.2 315.6L542.5 318.9L546.4 319.8L549.9 320.5L565.6 322.5L569.8 322.8L573.7 322.6L582.6 321.2L584.7 321.1L586.5 321.2L590.4 322.0L600.7 325.2L603.2 325.8L605.7 326.0L607.5 326.0L609.6 325.7L611.7 325.3L616.7 323.7L618.1 323.6L619.5 323.6L621.3 324.1L623.4 325.2L631.3 330.5L634.5 332.4L637.3 333.6L640.8 334.3L689.5 334.4" fill="none" stroke="#3a8ad8" stroke-width="1.3"/>
<path d="M512.3 299.0L518.0 299.5L520.1 300.0L521.9 300.6L525.1 302.1L531.1 305.6L534.7 307.4L538.9 309.3L543.2 310.9L551.4 313.1L559.2 314.5L563.1 314.9L567.0 315.1L571.2 315.1L574.1 314.8L576.2 314.4L578.0 313.8L584.4 310.8L586.2 310.4L587.6 310.4L589.4 310.8L591.1 311.5L597.9 315.5L600.7 317.0L603.2 317.8L605.7 318.0L607.5 317.8L609.6 317.1L611.7 316.0L615.3 313.9L617.1 313.1L618.8 312.8L620.3 313.0L621.3 313.5L622.4 314.2L624.2 316.1L625.9 318.6L630.6 326.3L632.0 328.2L633.4 329.8L635.2 331.3L636.9 332.4L640.1 333.7L641.6 334.1L643.0 334.2L654.0 334.4L689.5 334.4" fill="none" stroke="#2a8a48" stroke-width="1.3"/>
<path d="M512.3 291.8L515.5 292.2L520.5 292.6L521.9 293.0L523.7 293.6L525.8 294.8L527.9 296.2L535.7 302.5L538.9 304.7L540.7 305.6L542.8 306.5L545.0 307.1L547.5 307.5L557.8 308.1L568.8 309.3L571.2 309.4L573.4 309.2L575.5 308.7L577.6 307.8L579.4 306.6L583.3 303.6L585.1 302.5L586.5 302.0L587.9 301.9L589.7 302.4L591.5 303.4L598.2 308.9L601.1 310.8L603.6 311.9L605.0 312.2L606.0 312.3L608.2 311.9L610.3 310.8L612.1 309.6L615.6 306.7L617.1 305.7L618.5 305.2L619.9 305.2L621.0 305.6L622.0 306.4L623.1 307.6L624.2 309.2L625.9 312.7L630.6 323.3L631.6 325.3L633.0 327.5L634.5 329.2L636.2 330.8L637.7 331.8L640.5 333.4L642.6 334.0L650.8 334.2L661.4 334.4L689.5 334.4" fill="none" stroke="#f6a33a" stroke-width="1.3"/>
<path d="M512.3 283.7L520.1 283.2L522.2 283.5L524.0 284.2L525.8 285.3L527.6 286.9L534.7 294.7L538.2 298.0L540.0 299.2L541.8 300.2L543.5 300.9L545.7 301.3L548.9 301.4L558.5 300.8L562.0 301.0L570.2 301.8L572.0 301.8L573.7 301.6L575.5 300.9L577.3 299.8L582.3 294.5L584.4 292.7L586.2 291.7L587.9 291.4L589.0 291.6L590.1 292.1L592.2 293.7L594.0 295.6L598.6 301.6L600.7 303.8L602.1 304.8L603.2 305.3L604.3 305.5L605.3 305.5L607.1 304.9L609.2 303.5L611.4 301.4L614.9 297.3L616.7 295.7L617.8 295.1L618.5 294.9L619.2 294.8L619.9 295.0L621.0 295.6L622.0 296.7L623.1 298.3L624.2 300.3L626.3 305.8L630.9 319.4L632.3 322.9L633.7 325.8L635.2 328.1L636.9 330.3L638.7 331.9L640.5 333.0L641.6 333.5L642.6 333.8L649.0 334.3L689.5 334.4" fill="none" stroke="#ee2a2a" stroke-width="1.3"/>
<rect x="593.30" y="196.70" width="96.40" height="67.10" fill="#fff" stroke="none"/>
<line x1="593.30" y1="196.70" x2="689.70" y2="196.70" stroke="#888" stroke-width="1.2" />
<line x1="593.30" y1="196.70" x2="593.30" y2="263.80" stroke="#888" stroke-width="1.2" />
<line x1="593.30" y1="263.80" x2="689.70" y2="263.80" stroke="#888" stroke-width="1.2" />
<line x1="689.70" y1="196.70" x2="689.70" y2="334.60" stroke="#888" stroke-width="1.2" />
<line x1="591.30" y1="257.60" x2="593.30" y2="257.60" stroke="#888" stroke-width="1.2" />
<text x="590.60" y="260.90" font-size="9" text-anchor="end" font-weight="normal" fill="#111"  textLength="11.80" lengthAdjust="spacingAndGlyphs">0.2</text>
<line x1="591.30" y1="233.40" x2="593.30" y2="233.40" stroke="#888" stroke-width="1.2" />
<text x="590.60" y="236.70" font-size="9" text-anchor="end" font-weight="normal" fill="#111"  textLength="11.80" lengthAdjust="spacingAndGlyphs">0.4</text>
<line x1="591.30" y1="209.20" x2="593.30" y2="209.20" stroke="#888" stroke-width="1.2" />
<text x="590.60" y="212.50" font-size="9" text-anchor="end" font-weight="normal" fill="#111"  textLength="11.80" lengthAdjust="spacingAndGlyphs">0.6</text>
<line x1="592.10" y1="245.50" x2="593.30" y2="245.50" stroke="#888" stroke-width="1.2" />
<line x1="592.10" y1="221.30" x2="593.30" y2="221.30" stroke="#888" stroke-width="1.2" />
<line x1="600.10" y1="263.80" x2="600.10" y2="265.80" stroke="#888" stroke-width="1.2" />
<text x="600.10" y="272.90" font-size="8.6" text-anchor="middle" font-weight="normal" fill="#111"  textLength="11.60" lengthAdjust="spacingAndGlyphs">1.0</text>
<line x1="627.93" y1="263.80" x2="627.93" y2="265.80" stroke="#888" stroke-width="1.2" />
<text x="627.93" y="272.90" font-size="8.6" text-anchor="middle" font-weight="normal" fill="#111"  textLength="11.60" lengthAdjust="spacingAndGlyphs">2.0</text>
<line x1="655.76" y1="263.80" x2="655.76" y2="265.80" stroke="#888" stroke-width="1.2" />
<text x="655.76" y="272.90" font-size="8.6" text-anchor="middle" font-weight="normal" fill="#111"  textLength="11.60" lengthAdjust="spacingAndGlyphs">3.0</text>
<line x1="683.59" y1="263.80" x2="683.59" y2="265.80" stroke="#888" stroke-width="1.2" />
<text x="683.59" y="272.90" font-size="8.6" text-anchor="middle" font-weight="normal" fill="#111"  textLength="11.60" lengthAdjust="spacingAndGlyphs">4.0</text>
<line x1="614.01" y1="263.80" x2="614.01" y2="265.00" stroke="#888" stroke-width="1.2" />
<line x1="641.85" y1="263.80" x2="641.85" y2="265.00" stroke="#888" stroke-width="1.2" />
<line x1="669.67" y1="263.80" x2="669.67" y2="265.00" stroke="#888" stroke-width="1.2" />
<text x="602.6" y="282.4" font-size="8.8" fill="#222" textLength="78.5" lengthAdjust="spacingAndGlyphs">Concentration (10<tspan font-size="5" dy="-3.2">-5</tspan><tspan dy="3.2"> M)</tspan></text>
<text x="576.00" y="231.50" font-size="8.6" text-anchor="middle" font-weight="normal" fill="#111" transform="rotate(-90 576.0 231.5)" textLength="42.50" lengthAdjust="spacingAndGlyphs">Absorbance</text>
<text x="636.2" y="253.3" font-size="8.2" fill="#222"><tspan font-style="italic">&#949;</tspan>=14515.9</text>
<polyline points="600.1,258.8 627.9,239.3 655.8,224.4 683.6,205.3" fill="none" stroke="#333" stroke-width="1"/>
<line x1="599.60" y1="259.66" x2="684.09" y2="204.60" stroke="#f03c3c" stroke-width="1.0" />
<circle cx="600.1" cy="258.8" r="1.2" fill="#111"/>
<circle cx="627.9" cy="239.3" r="1.2" fill="#111"/>
<circle cx="655.8" cy="224.4" r="1.2" fill="#111"/>
<circle cx="683.6" cy="205.3" r="1.2" fill="#111"/>
</svg>
</body></html>
